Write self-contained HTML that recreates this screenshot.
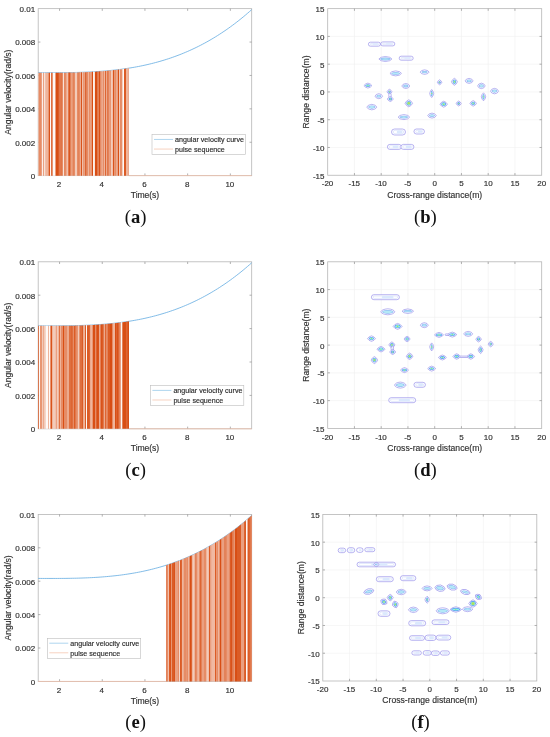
<!DOCTYPE html>
<html lang="en"><head><meta charset="utf-8"><title>Figure</title>
<style>html,body{margin:0;padding:0;background:#fff}body{width:550px;height:737px;overflow:hidden}svg{display:block;font-family:"Liberation Sans",sans-serif}.s text{stroke:#333;stroke-width:.16px}</style>
</head><body>
<svg width="550" height="737" viewBox="0 0 550 737">
<rect width="550" height="737" fill="#fff"/>
<g class="s">
<rect x="38.20" y="8.65" width="213.50" height="167.00" fill="none" stroke="#b6b6b6" stroke-width="0.8"/>
<path d="M59.55,175.65v-2.2M59.55,8.65v2.2M102.25,175.65v-2.2M102.25,8.65v2.2M144.95,175.65v-2.2M144.95,8.65v2.2M187.65,175.65v-2.2M187.65,8.65v2.2M230.35,175.65v-2.2M230.35,8.65v2.2M38.20,142.25h2.2M251.70,142.25h-2.2M38.20,108.85h2.2M251.70,108.85h-2.2M38.20,75.45h2.2M251.70,75.45h-2.2M38.20,42.05h2.2M251.70,42.05h-2.2" fill="none" stroke="#909090" stroke-width="0.7"/>
<polyline points="38.20,72.67 40.34,72.68 42.47,72.69 44.61,72.69 46.74,72.70 48.88,72.70 51.01,72.70 53.15,72.70 55.28,72.70 57.41,72.69 59.55,72.68 61.69,72.67 63.82,72.65 65.95,72.63 68.09,72.60 70.22,72.57 72.36,72.53 74.50,72.49 76.63,72.44 78.77,72.38 80.90,72.32 83.03,72.24 85.17,72.17 87.31,72.08 89.44,71.98 91.58,71.88 93.71,71.76 95.84,71.63 97.98,71.50 100.12,71.35 102.25,71.20 104.38,71.03 106.52,70.85 108.66,70.65 110.79,70.45 112.92,70.23 115.06,70.00 117.20,69.75 119.33,69.50 121.47,69.22 123.60,68.93 125.73,68.63 127.87,68.31 130.00,67.97 132.14,67.62 134.28,67.25 136.41,66.86 138.55,66.46 140.68,66.04 142.81,65.60 144.95,65.14 147.08,64.66 149.22,64.16 151.36,63.64 153.49,63.10 155.62,62.54 157.76,61.96 159.90,61.36 162.03,60.74 164.17,60.09 166.30,59.42 168.44,58.73 170.57,58.02 172.70,57.28 174.84,56.51 176.98,55.73 179.11,54.91 181.25,54.08 183.38,53.21 185.51,52.32 187.65,51.41 189.78,50.46 191.92,49.49 194.06,48.49 196.19,47.47 198.32,46.41 200.46,45.33 202.59,44.21 204.73,43.07 206.87,41.90 209.00,40.69 211.13,39.46 213.27,38.19 215.41,36.90 217.54,35.57 219.68,34.21 221.81,32.81 223.94,31.39 226.08,29.93 228.22,28.43 230.35,26.90 232.49,25.34 234.62,23.74 236.75,22.11 238.89,20.44 241.02,18.73 243.16,16.99 245.29,15.21 247.43,13.39 249.56,11.54 251.70,9.65" fill="none" stroke="#62abe1" stroke-width="0.8"/>
<polygon points="38.30,175.65 38.30,72.67 39.00,72.68 39.00,175.65" fill="#ecaa8e"/>
<polygon points="39.00,175.65 39.00,72.68 40.00,72.68 40.00,175.65" fill="#e68c66"/>
<polygon points="40.00,175.65 40.00,72.68 41.00,72.68 41.00,175.65" fill="#e68c66"/>
<polygon points="41.00,175.65 41.00,72.68 42.00,72.68 42.00,175.65" fill="#eaa081"/>
<polygon points="42.00,175.65 42.00,72.68 43.00,72.69 43.00,175.65" fill="#fcf0eb"/>
<polygon points="43.00,175.65 43.00,72.69 44.00,72.69 44.00,175.65" fill="#eaa081"/>
<polygon points="44.00,175.65 44.00,72.69 45.00,72.69 45.00,175.65" fill="#f9e3d9"/>
<polygon points="45.00,175.65 45.00,72.69 46.00,72.69 46.00,175.65" fill="#f1bfab"/>
<polygon points="46.00,175.65 46.00,72.69 47.00,72.70 47.00,175.65" fill="#efb59c"/>
<polygon points="47.00,175.65 47.00,72.70 48.00,72.70 48.00,175.65" fill="#efb59c"/>
<polygon points="48.00,175.65 48.00,72.70 49.00,72.70 49.00,175.65" fill="#e89673"/>
<polygon points="49.00,175.65 49.00,72.70 50.00,72.70 50.00,175.65" fill="#d9521a"/>
<polygon points="50.00,175.65 50.00,72.70 51.00,72.70 51.00,175.65" fill="#fef9f7"/>
<polygon points="51.00,175.65 51.00,72.70 52.00,72.70 52.00,175.65" fill="#df6f3f"/>
<polygon points="52.00,175.65 52.00,72.70 53.00,72.70 53.00,175.65" fill="#e89673"/>
<polygon points="53.00,175.65 53.00,72.70 54.00,72.70 54.00,175.65" fill="#fef9f7"/>
<polygon points="54.00,175.65 54.00,72.70 55.00,72.70 55.00,175.65" fill="#fef9f7"/>
<polygon points="55.00,175.65 55.00,72.70 56.00,72.69 56.00,175.65" fill="#eaa081"/>
<polygon points="56.00,175.65 56.00,72.69 57.00,72.69 57.00,175.65" fill="#d84e14"/>
<polygon points="57.00,175.65 57.00,72.69 58.00,72.69 58.00,175.65" fill="#d84e14"/>
<polygon points="58.00,175.65 58.00,72.69 59.00,72.68 59.00,175.65" fill="#db5c26"/>
<polygon points="59.00,175.65 59.00,72.68 60.00,72.68 60.00,175.65" fill="#e1784c"/>
<polygon points="60.00,175.65 60.00,72.68 61.00,72.67 61.00,175.65" fill="#e1784c"/>
<polygon points="61.00,175.65 61.00,72.67 62.00,72.66 62.00,175.65" fill="#e07447"/>
<polygon points="62.00,175.65 62.00,72.66 63.00,72.66 63.00,175.65" fill="#e68c66"/>
<polygon points="63.00,175.65 63.00,72.66 64.00,72.65 64.00,175.65" fill="#f9e3d9"/>
<polygon points="64.00,175.65 64.00,72.65 65.00,72.64 65.00,175.65" fill="#e58861"/>
<polygon points="65.00,175.65 65.00,72.64 66.00,72.63 66.00,175.65" fill="#e68c66"/>
<polygon points="66.00,175.65 66.00,72.63 67.00,72.61 67.00,175.65" fill="#ecaa8e"/>
<polygon points="67.00,175.65 67.00,72.61 68.00,72.60 68.00,175.65" fill="#f1bfab"/>
<polygon points="68.00,175.65 68.00,72.60 69.00,72.59 69.00,175.65" fill="#e1784c"/>
<polygon points="69.00,175.65 69.00,72.59 70.00,72.57 70.00,175.65" fill="#da561f"/>
<polygon points="70.00,175.65 70.00,72.57 71.00,72.56 71.00,175.65" fill="#e38259"/>
<polygon points="71.00,175.65 71.00,72.56 72.00,72.54 72.00,175.65" fill="#eaa081"/>
<polygon points="72.00,175.65 72.00,72.54 73.00,72.52 73.00,175.65" fill="#e89673"/>
<polygon points="73.00,175.65 73.00,72.52 74.00,72.50 74.00,175.65" fill="#e38259"/>
<polygon points="74.00,175.65 74.00,72.50 75.00,72.48 75.00,175.65" fill="#e68c66"/>
<polygon points="75.00,175.65 75.00,72.48 76.00,72.45 76.00,175.65" fill="#f3cbba"/>
<polygon points="76.00,175.65 76.00,72.45 77.00,72.43 77.00,175.65" fill="#f3cbba"/>
<polygon points="77.00,175.65 77.00,72.43 78.00,72.40 78.00,175.65" fill="#e68c66"/>
<polygon points="78.00,175.65 78.00,72.40 79.00,72.37 79.00,175.65" fill="#e38259"/>
<polygon points="79.00,175.65 79.00,72.37 80.00,72.34 80.00,175.65" fill="#e68c66"/>
<polygon points="80.00,175.65 80.00,72.34 81.00,72.31 81.00,175.65" fill="#ecaa8e"/>
<polygon points="81.00,175.65 81.00,72.31 82.00,72.28 82.00,175.65" fill="#d9521a"/>
<polygon points="82.00,175.65 82.00,72.28 83.00,72.25 83.00,175.65" fill="#f1bfab"/>
<polygon points="83.00,175.65 83.00,72.25 84.00,72.21 84.00,175.65" fill="#e89673"/>
<polygon points="84.00,175.65 84.00,72.21 85.00,72.17 85.00,175.65" fill="#eaa081"/>
<polygon points="85.00,175.65 85.00,72.17 86.00,72.13 86.00,175.65" fill="#dd6533"/>
<polygon points="86.00,175.65 86.00,72.13 87.00,72.09 87.00,175.65" fill="#e38259"/>
<polygon points="87.00,175.65 87.00,72.09 88.00,72.05 88.00,175.65" fill="#e68c66"/>
<polygon points="88.00,175.65 88.00,72.05 89.00,72.00 89.00,175.65" fill="#efb59c"/>
<polygon points="89.00,175.65 89.00,72.00 90.00,71.95 90.00,175.65" fill="#e68c66"/>
<polygon points="90.00,175.65 90.00,71.95 91.00,71.90 91.00,175.65" fill="#eaa081"/>
<polygon points="91.00,175.65 91.00,71.90 92.00,71.85 92.00,175.65" fill="#e89673"/>
<polygon points="92.00,175.65 92.00,71.85 93.00,71.80 93.00,175.65" fill="#d84e14"/>
<polygon points="93.00,175.65 93.00,71.80 94.00,71.74 94.00,175.65" fill="#fcf0eb"/>
<polygon points="94.00,175.65 94.00,71.74 95.00,71.69 95.00,175.65" fill="#f9e3d9"/>
<polygon points="95.00,175.65 95.00,71.69 96.00,71.63 96.00,175.65" fill="#d84e14"/>
<polygon points="96.00,175.65 96.00,71.63 97.00,71.56 97.00,175.65" fill="#d84e14"/>
<polygon points="97.00,175.65 97.00,71.56 98.00,71.50 98.00,175.65" fill="#e1784c"/>
<polygon points="98.00,175.65 98.00,71.50 99.00,71.43 99.00,175.65" fill="#e38259"/>
<polygon points="99.00,175.65 99.00,71.43 100.00,71.36 100.00,175.65" fill="#d9521a"/>
<polygon points="100.00,175.65 100.00,71.36 101.00,71.29 101.00,175.65" fill="#e68c66"/>
<polygon points="101.00,175.65 101.00,71.29 102.00,71.22 102.00,175.65" fill="#eaa081"/>
<polygon points="102.00,175.65 102.00,71.22 103.00,71.14 103.00,175.65" fill="#ecaa8e"/>
<polygon points="103.00,175.65 103.00,71.14 104.00,71.06 104.00,175.65" fill="#e68c66"/>
<polygon points="104.00,175.65 104.00,71.06 105.00,70.98 105.00,175.65" fill="#efb59c"/>
<polygon points="105.00,175.65 105.00,70.98 106.00,70.89 106.00,175.65" fill="#dd6533"/>
<polygon points="106.00,175.65 106.00,70.89 107.00,70.81 107.00,175.65" fill="#ecaa8e"/>
<polygon points="107.00,175.65 107.00,70.81 108.00,70.72 108.00,175.65" fill="#e1784c"/>
<polygon points="108.00,175.65 108.00,70.72 109.00,70.62 109.00,175.65" fill="#e38259"/>
<polygon points="109.00,175.65 109.00,70.62 110.00,70.53 110.00,175.65" fill="#eaa081"/>
<polygon points="110.00,175.65 110.00,70.53 111.00,70.43 111.00,175.65" fill="#e89673"/>
<polygon points="111.00,175.65 111.00,70.43 112.00,70.33 112.00,175.65" fill="#f3cbba"/>
<polygon points="112.00,175.65 112.00,70.33 113.00,70.22 113.00,175.65" fill="#f1bfab"/>
<polygon points="113.00,175.65 113.00,70.22 114.00,70.12 114.00,175.65" fill="#d9521a"/>
<polygon points="114.00,175.65 114.00,70.12 115.00,70.01 115.00,175.65" fill="#e89673"/>
<polygon points="115.00,175.65 115.00,70.01 116.00,69.89 116.00,175.65" fill="#e68c66"/>
<polygon points="116.00,175.65 116.00,69.89 117.00,69.78 117.00,175.65" fill="#ecaa8e"/>
<polygon points="117.00,175.65 117.00,69.78 118.00,69.66 118.00,175.65" fill="#eaa081"/>
<polygon points="118.00,175.65 118.00,69.66 119.00,69.54 119.00,175.65" fill="#d84e14"/>
<polygon points="119.00,175.65 119.00,69.54 120.00,69.41 120.00,175.65" fill="#f3cbba"/>
<polygon points="120.00,175.65 120.00,69.41 121.00,69.28 121.00,175.65" fill="#e68c66"/>
<polygon points="121.00,175.65 121.00,69.28 122.00,69.15 122.00,175.65" fill="#e6906b"/>
<polygon points="122.00,175.65 122.00,69.15 123.00,69.02 123.00,175.65" fill="#f4cfc0"/>
<polygon points="123.00,175.65 123.00,69.02 124.00,68.88 124.00,175.65" fill="#fef9f7"/>
<polygon points="124.00,175.65 124.00,68.88 125.00,68.73 125.00,175.65" fill="#db5c26"/>
<polygon points="125.00,175.65 125.00,68.73 126.00,68.59 126.00,175.65" fill="#db5c26"/>
<polygon points="126.00,175.65 126.00,68.59 127.00,68.44 127.00,175.65" fill="#efb59c"/>
<polygon points="127.00,175.65 127.00,68.44 128.00,68.29 128.00,175.65" fill="#efb59c"/>
<polygon points="128.00,175.65 128.00,68.29 129.00,68.13 129.00,175.65" fill="#ecaa8e"/>
<line x1="129.20" y1="175.65" x2="251.70" y2="175.65" stroke="#f4bfa6" stroke-width="0.7"/>
<text x="59.05" y="186.85" text-anchor="middle" font-size="8.0" fill="#303030">2</text>
<text x="101.75" y="186.85" text-anchor="middle" font-size="8.0" fill="#303030">4</text>
<text x="144.45" y="186.85" text-anchor="middle" font-size="8.0" fill="#303030">6</text>
<text x="187.15" y="186.85" text-anchor="middle" font-size="8.0" fill="#303030">8</text>
<text x="229.85" y="186.85" text-anchor="middle" font-size="8.0" fill="#303030">10</text>
<text x="35.20" y="178.95" text-anchor="end" font-size="8.0" fill="#303030">0</text>
<text x="35.20" y="145.55" text-anchor="end" font-size="8.0" fill="#303030">0.002</text>
<text x="35.20" y="112.15" text-anchor="end" font-size="8.0" fill="#303030">0.004</text>
<text x="35.20" y="78.75" text-anchor="end" font-size="8.0" fill="#303030">0.006</text>
<text x="35.20" y="45.35" text-anchor="end" font-size="8.0" fill="#303030">0.008</text>
<text x="35.20" y="11.95" text-anchor="end" font-size="8.0" fill="#303030">0.01</text>
<text x="144.95" y="197.75" text-anchor="middle" font-size="8.6" textLength="28.2" fill="#303030">Time(s)</text>
<text transform="translate(11,92.15) rotate(-90)" text-anchor="middle" font-size="8.6" textLength="85.2" fill="#303030">Angular velocity(rad/s)</text>
<rect x="152.00" y="134.65" width="93.4" height="20" fill="#fff" stroke="#bdbdbd" stroke-width="0.6"/>
<line x1="154.00" y1="139.45" x2="173.00" y2="139.45" stroke="#8cc4e8" stroke-width="0.7"/>
<line x1="154.00" y1="149.05" x2="173.00" y2="149.05" stroke="#f4bfa6" stroke-width="0.7"/>
<text x="175.00" y="142.35" font-size="7.1" textLength="69" fill="#2a2a2a">angular velocity curve</text>
<text x="175.00" y="151.85" font-size="7.1" textLength="49.8" fill="#2a2a2a">pulse sequence</text>
</g>
<text x="135.6" y="222.65" text-anchor="middle" font-family="'Liberation Serif', serif" font-size="18.6" fill="#111">(<tspan font-weight="bold">a</tspan>)</text>
<g class="s">
<rect x="38.20" y="261.80" width="213.50" height="167.00" fill="none" stroke="#b6b6b6" stroke-width="0.8"/>
<path d="M59.55,428.80v-2.2M59.55,261.80v2.2M102.25,428.80v-2.2M102.25,261.80v2.2M144.95,428.80v-2.2M144.95,261.80v2.2M187.65,428.80v-2.2M187.65,261.80v2.2M230.35,428.80v-2.2M230.35,261.80v2.2M38.20,395.40h2.2M251.70,395.40h-2.2M38.20,362.00h2.2M251.70,362.00h-2.2M38.20,328.60h2.2M251.70,328.60h-2.2M38.20,295.20h2.2M251.70,295.20h-2.2" fill="none" stroke="#909090" stroke-width="0.7"/>
<polyline points="38.20,325.82 40.34,325.83 42.47,325.84 44.61,325.84 46.74,325.85 48.88,325.85 51.01,325.85 53.15,325.85 55.28,325.85 57.41,325.84 59.55,325.83 61.69,325.82 63.82,325.80 65.95,325.78 68.09,325.75 70.22,325.72 72.36,325.68 74.50,325.64 76.63,325.59 78.77,325.53 80.90,325.47 83.03,325.39 85.17,325.32 87.31,325.23 89.44,325.13 91.58,325.03 93.71,324.91 95.84,324.78 97.98,324.65 100.12,324.50 102.25,324.35 104.38,324.18 106.52,324.00 108.66,323.80 110.79,323.60 112.92,323.38 115.06,323.15 117.20,322.90 119.33,322.65 121.47,322.37 123.60,322.08 125.73,321.78 127.87,321.46 130.00,321.12 132.14,320.77 134.28,320.40 136.41,320.01 138.55,319.61 140.68,319.19 142.81,318.75 144.95,318.29 147.08,317.81 149.22,317.31 151.36,316.79 153.49,316.25 155.62,315.69 157.76,315.11 159.90,314.51 162.03,313.89 164.17,313.24 166.30,312.57 168.44,311.88 170.57,311.17 172.70,310.43 174.84,309.66 176.98,308.88 179.11,308.06 181.25,307.23 183.38,306.36 185.51,305.47 187.65,304.56 189.78,303.61 191.92,302.64 194.06,301.64 196.19,300.62 198.32,299.56 200.46,298.48 202.59,297.36 204.73,296.22 206.87,295.05 209.00,293.84 211.13,292.61 213.27,291.34 215.41,290.05 217.54,288.72 219.68,287.36 221.81,285.96 223.94,284.54 226.08,283.08 228.22,281.58 230.35,280.05 232.49,278.49 234.62,276.89 236.75,275.26 238.89,273.59 241.02,271.88 243.16,270.14 245.29,268.36 247.43,266.54 249.56,264.69 251.70,262.80" fill="none" stroke="#62abe1" stroke-width="0.8"/>
<polygon points="38.30,428.80 38.30,325.82 39.00,325.83 39.00,428.80" fill="#d9521a"/>
<polygon points="39.00,428.80 39.00,325.83 40.00,325.83 40.00,428.80" fill="#fef9f7"/>
<polygon points="40.00,428.80 40.00,325.83 41.00,325.83 41.00,428.80" fill="#e89673"/>
<polygon points="41.00,428.80 41.00,325.83 42.00,325.83 42.00,428.80" fill="#e89673"/>
<polygon points="42.00,428.80 42.00,325.83 43.00,325.84 43.00,428.80" fill="#f3cbba"/>
<polygon points="43.00,428.80 43.00,325.84 44.00,325.84 44.00,428.80" fill="#ecaa8e"/>
<polygon points="44.00,428.80 44.00,325.84 45.00,325.84 45.00,428.80" fill="#f3cbba"/>
<polygon points="45.00,428.80 45.00,325.84 46.00,325.84 46.00,428.80" fill="#f6d6c9"/>
<polygon points="46.00,428.80 46.00,325.84 47.00,325.85 47.00,428.80" fill="#fef9f7"/>
<polygon points="47.00,428.80 47.00,325.85 48.00,325.85 48.00,428.80" fill="#fef9f7"/>
<polygon points="48.00,428.80 48.00,325.85 49.00,325.85 49.00,428.80" fill="#efb59c"/>
<polygon points="49.00,428.80 49.00,325.85 50.00,325.85 50.00,428.80" fill="#fef9f7"/>
<polygon points="50.00,428.80 50.00,325.85 51.00,325.85 51.00,428.80" fill="#e89673"/>
<polygon points="51.00,428.80 51.00,325.85 52.00,325.85 52.00,428.80" fill="#d9521a"/>
<polygon points="52.00,428.80 52.00,325.85 53.00,325.85 53.00,428.80" fill="#efb59c"/>
<polygon points="53.00,428.80 53.00,325.85 54.00,325.85 54.00,428.80" fill="#f3cbba"/>
<polygon points="54.00,428.80 54.00,325.85 55.00,325.85 55.00,428.80" fill="#f3cbba"/>
<polygon points="55.00,428.80 55.00,325.85 56.00,325.84 56.00,428.80" fill="#f1bfab"/>
<polygon points="56.00,428.80 56.00,325.84 57.00,325.84 57.00,428.80" fill="#eaa081"/>
<polygon points="57.00,428.80 57.00,325.84 58.00,325.84 58.00,428.80" fill="#f3cbba"/>
<polygon points="58.00,428.80 58.00,325.84 59.00,325.83 59.00,428.80" fill="#efb59c"/>
<polygon points="59.00,428.80 59.00,325.83 60.00,325.83 60.00,428.80" fill="#df6f3f"/>
<polygon points="60.00,428.80 60.00,325.83 61.00,325.82 61.00,428.80" fill="#efb59c"/>
<polygon points="61.00,428.80 61.00,325.82 62.00,325.81 62.00,428.80" fill="#e68c66"/>
<polygon points="62.00,428.80 62.00,325.81 63.00,325.81 63.00,428.80" fill="#e68c66"/>
<polygon points="63.00,428.80 63.00,325.81 64.00,325.80 64.00,428.80" fill="#d84e14"/>
<polygon points="64.00,428.80 64.00,325.80 65.00,325.79 65.00,428.80" fill="#e68c66"/>
<polygon points="65.00,428.80 65.00,325.79 66.00,325.78 66.00,428.80" fill="#e68c66"/>
<polygon points="66.00,428.80 66.00,325.78 67.00,325.76 67.00,428.80" fill="#e68c66"/>
<polygon points="67.00,428.80 67.00,325.76 68.00,325.75 68.00,428.80" fill="#ecaa8e"/>
<polygon points="68.00,428.80 68.00,325.75 69.00,325.74 69.00,428.80" fill="#ecaa8e"/>
<polygon points="69.00,428.80 69.00,325.74 70.00,325.72 70.00,428.80" fill="#df6f3f"/>
<polygon points="70.00,428.80 70.00,325.72 71.00,325.71 71.00,428.80" fill="#df6f3f"/>
<polygon points="71.00,428.80 71.00,325.71 72.00,325.69 72.00,428.80" fill="#dd6533"/>
<polygon points="72.00,428.80 72.00,325.69 73.00,325.67 73.00,428.80" fill="#df6f3f"/>
<polygon points="73.00,428.80 73.00,325.67 74.00,325.65 74.00,428.80" fill="#e68c66"/>
<polygon points="74.00,428.80 74.00,325.65 75.00,325.63 75.00,428.80" fill="#db5c26"/>
<polygon points="75.00,428.80 75.00,325.63 76.00,325.60 76.00,428.80" fill="#e1784c"/>
<polygon points="76.00,428.80 76.00,325.60 77.00,325.58 77.00,428.80" fill="#e68c66"/>
<polygon points="77.00,428.80 77.00,325.58 78.00,325.55 78.00,428.80" fill="#e89673"/>
<polygon points="78.00,428.80 78.00,325.55 79.00,325.52 79.00,428.80" fill="#f3cbba"/>
<polygon points="79.00,428.80 79.00,325.52 80.00,325.49 80.00,428.80" fill="#e89673"/>
<polygon points="80.00,428.80 80.00,325.49 81.00,325.46 81.00,428.80" fill="#df6f3f"/>
<polygon points="81.00,428.80 81.00,325.46 82.00,325.43 82.00,428.80" fill="#df6f3f"/>
<polygon points="82.00,428.80 82.00,325.43 83.00,325.40 83.00,428.80" fill="#db5c26"/>
<polygon points="83.00,428.80 83.00,325.40 84.00,325.36 84.00,428.80" fill="#ecaa8e"/>
<polygon points="84.00,428.80 84.00,325.36 85.00,325.32 85.00,428.80" fill="#efb59c"/>
<polygon points="85.00,428.80 85.00,325.32 86.00,325.28 86.00,428.80" fill="#db5c26"/>
<polygon points="86.00,428.80 86.00,325.28 87.00,325.24 87.00,428.80" fill="#fef9f7"/>
<polygon points="87.00,428.80 87.00,325.24 88.00,325.20 88.00,428.80" fill="#db5c26"/>
<polygon points="88.00,428.80 88.00,325.20 89.00,325.15 89.00,428.80" fill="#db5c26"/>
<polygon points="89.00,428.80 89.00,325.15 90.00,325.10 90.00,428.80" fill="#dd6533"/>
<polygon points="90.00,428.80 90.00,325.10 91.00,325.05 91.00,428.80" fill="#ecaa8e"/>
<polygon points="91.00,428.80 91.00,325.05 92.00,325.00 92.00,428.80" fill="#efb59c"/>
<polygon points="92.00,428.80 92.00,325.00 93.00,324.95 93.00,428.80" fill="#e89673"/>
<polygon points="93.00,428.80 93.00,324.95 94.00,324.89 94.00,428.80" fill="#d84e14"/>
<polygon points="94.00,428.80 94.00,324.89 95.00,324.84 95.00,428.80" fill="#d84e14"/>
<polygon points="95.00,428.80 95.00,324.84 96.00,324.78 96.00,428.80" fill="#e68c66"/>
<polygon points="96.00,428.80 96.00,324.78 97.00,324.71 97.00,428.80" fill="#dd6533"/>
<polygon points="97.00,428.80 97.00,324.71 98.00,324.65 98.00,428.80" fill="#d84e14"/>
<polygon points="98.00,428.80 98.00,324.65 99.00,324.58 99.00,428.80" fill="#d9521a"/>
<polygon points="99.00,428.80 99.00,324.58 100.00,324.51 100.00,428.80" fill="#ecaa8e"/>
<polygon points="100.00,428.80 100.00,324.51 101.00,324.44 101.00,428.80" fill="#e38259"/>
<polygon points="101.00,428.80 101.00,324.44 102.00,324.37 102.00,428.80" fill="#d9521a"/>
<polygon points="102.00,428.80 102.00,324.37 103.00,324.29 103.00,428.80" fill="#db5c26"/>
<polygon points="103.00,428.80 103.00,324.29 104.00,324.21 104.00,428.80" fill="#e1784c"/>
<polygon points="104.00,428.80 104.00,324.21 105.00,324.13 105.00,428.80" fill="#ecaa8e"/>
<polygon points="105.00,428.80 105.00,324.13 106.00,324.04 106.00,428.80" fill="#dd6533"/>
<polygon points="106.00,428.80 106.00,324.04 107.00,323.96 107.00,428.80" fill="#e68c66"/>
<polygon points="107.00,428.80 107.00,323.96 108.00,323.87 108.00,428.80" fill="#e38259"/>
<polygon points="108.00,428.80 108.00,323.87 109.00,323.77 109.00,428.80" fill="#db5c26"/>
<polygon points="109.00,428.80 109.00,323.77 110.00,323.68 110.00,428.80" fill="#db5c26"/>
<polygon points="110.00,428.80 110.00,323.68 111.00,323.58 111.00,428.80" fill="#d84e14"/>
<polygon points="111.00,428.80 111.00,323.58 112.00,323.48 112.00,428.80" fill="#d84e14"/>
<polygon points="112.00,428.80 112.00,323.48 113.00,323.37 113.00,428.80" fill="#e68c66"/>
<polygon points="113.00,428.80 113.00,323.37 114.00,323.27 114.00,428.80" fill="#efb59c"/>
<polygon points="114.00,428.80 114.00,323.27 115.00,323.16 115.00,428.80" fill="#efb59c"/>
<polygon points="115.00,428.80 115.00,323.16 116.00,323.04 116.00,428.80" fill="#d84e14"/>
<polygon points="116.00,428.80 116.00,323.04 117.00,322.93 117.00,428.80" fill="#dc612e"/>
<polygon points="117.00,428.80 117.00,322.93 118.00,322.81 118.00,428.80" fill="#d9521a"/>
<polygon points="118.00,428.80 118.00,322.81 119.00,322.69 119.00,428.80" fill="#dd6533"/>
<polygon points="119.00,428.80 119.00,322.69 120.00,322.56 120.00,428.80" fill="#e38259"/>
<polygon points="120.00,428.80 120.00,322.56 121.00,322.43 121.00,428.80" fill="#eaa081"/>
<polygon points="121.00,428.80 121.00,322.43 122.00,322.30 122.00,428.80" fill="#fdf6f3"/>
<polygon points="122.00,428.80 122.00,322.30 123.00,322.17 123.00,428.80" fill="#e38259"/>
<polygon points="123.00,428.80 123.00,322.17 124.00,322.03 124.00,428.80" fill="#d84e14"/>
<polygon points="124.00,428.80 124.00,322.03 125.00,321.88 125.00,428.80" fill="#d84e14"/>
<polygon points="125.00,428.80 125.00,321.88 126.00,321.74 126.00,428.80" fill="#d84f15"/>
<polygon points="126.00,428.80 126.00,321.74 127.00,321.59 127.00,428.80" fill="#dd6533"/>
<polygon points="127.00,428.80 127.00,321.59 128.00,321.44 128.00,428.80" fill="#db5c26"/>
<polygon points="128.00,428.80 128.00,321.44 129.00,321.28 129.00,428.80" fill="#d84e14"/>
<line x1="129.20" y1="428.80" x2="251.70" y2="428.80" stroke="#f4bfa6" stroke-width="0.7"/>
<text x="59.05" y="440.00" text-anchor="middle" font-size="8.0" fill="#303030">2</text>
<text x="101.75" y="440.00" text-anchor="middle" font-size="8.0" fill="#303030">4</text>
<text x="144.45" y="440.00" text-anchor="middle" font-size="8.0" fill="#303030">6</text>
<text x="187.15" y="440.00" text-anchor="middle" font-size="8.0" fill="#303030">8</text>
<text x="229.85" y="440.00" text-anchor="middle" font-size="8.0" fill="#303030">10</text>
<text x="35.20" y="432.10" text-anchor="end" font-size="8.0" fill="#303030">0</text>
<text x="35.20" y="398.70" text-anchor="end" font-size="8.0" fill="#303030">0.002</text>
<text x="35.20" y="365.30" text-anchor="end" font-size="8.0" fill="#303030">0.004</text>
<text x="35.20" y="331.90" text-anchor="end" font-size="8.0" fill="#303030">0.006</text>
<text x="35.20" y="298.50" text-anchor="end" font-size="8.0" fill="#303030">0.008</text>
<text x="35.20" y="265.10" text-anchor="end" font-size="8.0" fill="#303030">0.01</text>
<text x="144.95" y="450.90" text-anchor="middle" font-size="8.6" textLength="28.2" fill="#303030">Time(s)</text>
<text transform="translate(11,345.30) rotate(-90)" text-anchor="middle" font-size="8.6" textLength="85.2" fill="#303030">Angular velocity(rad/s)</text>
<rect x="150.40" y="385.60" width="93.4" height="20" fill="#fff" stroke="#bdbdbd" stroke-width="0.6"/>
<line x1="152.40" y1="390.40" x2="171.40" y2="390.40" stroke="#8cc4e8" stroke-width="0.7"/>
<line x1="152.40" y1="400.00" x2="171.40" y2="400.00" stroke="#f4bfa6" stroke-width="0.7"/>
<text x="173.40" y="393.30" font-size="7.1" textLength="69" fill="#2a2a2a">angular velocity curve</text>
<text x="173.40" y="402.80" font-size="7.1" textLength="49.8" fill="#2a2a2a">pulse sequence</text>
</g>
<text x="135.6" y="475.80" text-anchor="middle" font-family="'Liberation Serif', serif" font-size="18.6" fill="#111">(<tspan font-weight="bold">c</tspan>)</text>
<g class="s">
<rect x="38.20" y="514.40" width="213.50" height="167.00" fill="none" stroke="#b6b6b6" stroke-width="0.8"/>
<path d="M59.55,681.40v-2.2M59.55,514.40v2.2M102.25,681.40v-2.2M102.25,514.40v2.2M144.95,681.40v-2.2M144.95,514.40v2.2M187.65,681.40v-2.2M187.65,514.40v2.2M230.35,681.40v-2.2M230.35,514.40v2.2M38.20,648.00h2.2M251.70,648.00h-2.2M38.20,614.60h2.2M251.70,614.60h-2.2M38.20,581.20h2.2M251.70,581.20h-2.2M38.20,547.80h2.2M251.70,547.80h-2.2" fill="none" stroke="#909090" stroke-width="0.7"/>
<polyline points="38.20,578.42 40.34,578.43 42.47,578.44 44.61,578.44 46.74,578.45 48.88,578.45 51.01,578.45 53.15,578.45 55.28,578.45 57.41,578.44 59.55,578.43 61.69,578.42 63.82,578.40 65.95,578.38 68.09,578.35 70.22,578.32 72.36,578.28 74.50,578.24 76.63,578.19 78.77,578.13 80.90,578.07 83.03,577.99 85.17,577.92 87.31,577.83 89.44,577.73 91.58,577.63 93.71,577.51 95.84,577.38 97.98,577.25 100.12,577.10 102.25,576.95 104.38,576.78 106.52,576.60 108.66,576.40 110.79,576.20 112.92,575.98 115.06,575.75 117.20,575.50 119.33,575.25 121.47,574.97 123.60,574.68 125.73,574.38 127.87,574.06 130.00,573.72 132.14,573.37 134.28,573.00 136.41,572.61 138.55,572.21 140.68,571.79 142.81,571.35 144.95,570.89 147.08,570.41 149.22,569.91 151.36,569.39 153.49,568.85 155.62,568.29 157.76,567.71 159.90,567.11 162.03,566.49 164.17,565.84 166.30,565.17 168.44,564.48 170.57,563.77 172.70,563.03 174.84,562.26 176.98,561.48 179.11,560.66 181.25,559.83 183.38,558.96 185.51,558.07 187.65,557.16 189.78,556.21 191.92,555.24 194.06,554.24 196.19,553.22 198.32,552.16 200.46,551.08 202.59,549.96 204.73,548.82 206.87,547.65 209.00,546.44 211.13,545.21 213.27,543.94 215.41,542.65 217.54,541.32 219.68,539.96 221.81,538.56 223.94,537.14 226.08,535.68 228.22,534.18 230.35,532.65 232.49,531.09 234.62,529.49 236.75,527.86 238.89,526.19 241.02,524.48 243.16,522.74 245.29,520.96 247.43,519.14 249.56,517.29 251.70,515.40" fill="none" stroke="#62abe1" stroke-width="0.8"/>
<polygon points="166.00,681.40 166.00,565.27 167.00,564.95 167.00,681.40" fill="#e38259"/>
<polygon points="167.00,681.40 167.00,564.95 168.00,564.63 168.00,681.40" fill="#e68c66"/>
<polygon points="168.00,681.40 168.00,564.63 169.00,564.30 169.00,681.40" fill="#f1bfab"/>
<polygon points="169.00,681.40 169.00,564.30 170.00,563.96 170.00,681.40" fill="#db5c26"/>
<polygon points="170.00,681.40 170.00,563.96 171.00,563.62 171.00,681.40" fill="#d9521a"/>
<polygon points="171.00,681.40 171.00,563.62 172.00,563.27 172.00,681.40" fill="#e89673"/>
<polygon points="172.00,681.40 172.00,563.27 173.00,562.92 173.00,681.40" fill="#db5c26"/>
<polygon points="173.00,681.40 173.00,562.92 174.00,562.57 174.00,681.40" fill="#db5c26"/>
<polygon points="174.00,681.40 174.00,562.57 175.00,562.21 175.00,681.40" fill="#d9521a"/>
<polygon points="175.00,681.40 175.00,562.21 176.00,561.84 176.00,681.40" fill="#eaa081"/>
<polygon points="176.00,681.40 176.00,561.84 177.00,561.47 177.00,681.40" fill="#eaa081"/>
<polygon points="177.00,681.40 177.00,561.47 178.00,561.09 178.00,681.40" fill="#eaa081"/>
<polygon points="178.00,681.40 178.00,561.09 179.00,560.71 179.00,681.40" fill="#e68c66"/>
<polygon points="179.00,681.40 179.00,560.71 180.00,560.32 180.00,681.40" fill="#f6d6c9"/>
<polygon points="180.00,681.40 180.00,560.32 181.00,559.92 181.00,681.40" fill="#db5c26"/>
<polygon points="181.00,681.40 181.00,559.92 182.00,559.52 182.00,681.40" fill="#dd6533"/>
<polygon points="182.00,681.40 182.00,559.52 183.00,559.12 183.00,681.40" fill="#efb59c"/>
<polygon points="183.00,681.40 183.00,559.12 184.00,558.71 184.00,681.40" fill="#ecaa8e"/>
<polygon points="184.00,681.40 184.00,558.71 185.00,558.29 185.00,681.40" fill="#e68c66"/>
<polygon points="185.00,681.40 185.00,558.29 186.00,557.87 186.00,681.40" fill="#e68c66"/>
<polygon points="186.00,681.40 186.00,557.87 187.00,557.44 187.00,681.40" fill="#e89673"/>
<polygon points="187.00,681.40 187.00,557.44 188.00,557.00 188.00,681.40" fill="#e68c66"/>
<polygon points="188.00,681.40 188.00,557.00 189.00,556.56 189.00,681.40" fill="#efb59c"/>
<polygon points="189.00,681.40 189.00,556.56 190.00,556.12 190.00,681.40" fill="#e68c66"/>
<polygon points="190.00,681.40 190.00,556.12 191.00,555.66 191.00,681.40" fill="#d84e14"/>
<polygon points="191.00,681.40 191.00,555.66 192.00,555.20 192.00,681.40" fill="#dd6533"/>
<polygon points="192.00,681.40 192.00,555.20 193.00,554.74 193.00,681.40" fill="#efb59c"/>
<polygon points="193.00,681.40 193.00,554.74 194.00,554.27 194.00,681.40" fill="#f3cbba"/>
<polygon points="194.00,681.40 194.00,554.27 195.00,553.79 195.00,681.40" fill="#efb59c"/>
<polygon points="195.00,681.40 195.00,553.79 196.00,553.31 196.00,681.40" fill="#e38259"/>
<polygon points="196.00,681.40 196.00,553.31 197.00,552.82 197.00,681.40" fill="#e68c66"/>
<polygon points="197.00,681.40 197.00,552.82 198.00,552.32 198.00,681.40" fill="#ecaa8e"/>
<polygon points="198.00,681.40 198.00,552.32 199.00,551.82 199.00,681.40" fill="#efb59c"/>
<polygon points="199.00,681.40 199.00,551.82 200.00,551.31 200.00,681.40" fill="#e68c66"/>
<polygon points="200.00,681.40 200.00,551.31 201.00,550.80 201.00,681.40" fill="#dd6533"/>
<polygon points="201.00,681.40 201.00,550.80 202.00,550.28 202.00,681.40" fill="#e38259"/>
<polygon points="202.00,681.40 202.00,550.28 203.00,549.75 203.00,681.40" fill="#eaa081"/>
<polygon points="203.00,681.40 203.00,549.75 204.00,549.21 204.00,681.40" fill="#eaa081"/>
<polygon points="204.00,681.40 204.00,549.21 205.00,548.67 205.00,681.40" fill="#e68c66"/>
<polygon points="205.00,681.40 205.00,548.67 206.00,548.13 206.00,681.40" fill="#e68c66"/>
<polygon points="206.00,681.40 206.00,548.13 207.00,547.57 207.00,681.40" fill="#efb59c"/>
<polygon points="207.00,681.40 207.00,547.57 208.00,547.01 208.00,681.40" fill="#f3cbba"/>
<polygon points="208.00,681.40 208.00,547.01 209.00,546.44 209.00,681.40" fill="#f1bfab"/>
<polygon points="209.00,681.40 209.00,546.44 210.00,545.87 210.00,681.40" fill="#db5c26"/>
<polygon points="210.00,681.40 210.00,545.87 211.00,545.29 211.00,681.40" fill="#eaa081"/>
<polygon points="211.00,681.40 211.00,545.29 212.00,544.70 212.00,681.40" fill="#eeb097"/>
<polygon points="212.00,681.40 212.00,544.70 213.00,544.11 213.00,681.40" fill="#f0b9a2"/>
<polygon points="213.00,681.40 213.00,544.11 214.00,543.50 214.00,681.40" fill="#f0b9a2"/>
<polygon points="214.00,681.40 214.00,543.50 215.00,542.90 215.00,681.40" fill="#f0b9a2"/>
<polygon points="215.00,681.40 215.00,542.90 216.00,542.28 216.00,681.40" fill="#db5c26"/>
<polygon points="216.00,681.40 216.00,542.28 217.00,541.66 217.00,681.40" fill="#e89673"/>
<polygon points="217.00,681.40 217.00,541.66 218.00,541.03 218.00,681.40" fill="#e68c66"/>
<polygon points="218.00,681.40 218.00,541.03 219.00,540.39 219.00,681.40" fill="#efb59c"/>
<polygon points="219.00,681.40 219.00,540.39 220.00,539.75 220.00,681.40" fill="#e89673"/>
<polygon points="220.00,681.40 220.00,539.75 221.00,539.10 221.00,681.40" fill="#d84e14"/>
<polygon points="221.00,681.40 221.00,539.10 222.00,538.44 222.00,681.40" fill="#e68c66"/>
<polygon points="222.00,681.40 222.00,538.44 223.00,537.77 223.00,681.40" fill="#eaa081"/>
<polygon points="223.00,681.40 223.00,537.77 224.00,537.10 224.00,681.40" fill="#eaa081"/>
<polygon points="224.00,681.40 224.00,537.10 225.00,536.42 225.00,681.40" fill="#e38259"/>
<polygon points="225.00,681.40 225.00,536.42 226.00,535.73 226.00,681.40" fill="#e38259"/>
<polygon points="226.00,681.40 226.00,535.73 227.00,535.04 227.00,681.40" fill="#e68c66"/>
<polygon points="227.00,681.40 227.00,535.04 228.00,534.33 228.00,681.40" fill="#eaa081"/>
<polygon points="228.00,681.40 228.00,534.33 229.00,533.62 229.00,681.40" fill="#eaa081"/>
<polygon points="229.00,681.40 229.00,533.62 230.00,532.91 230.00,681.40" fill="#e68c66"/>
<polygon points="230.00,681.40 230.00,532.91 231.00,532.18 231.00,681.40" fill="#db5c26"/>
<polygon points="231.00,681.40 231.00,532.18 232.00,531.45 232.00,681.40" fill="#d9521a"/>
<polygon points="232.00,681.40 232.00,531.45 233.00,530.71 233.00,681.40" fill="#e1784c"/>
<polygon points="233.00,681.40 233.00,530.71 234.00,529.96 234.00,681.40" fill="#e38259"/>
<polygon points="234.00,681.40 234.00,529.96 235.00,529.20 235.00,681.40" fill="#e89673"/>
<polygon points="235.00,681.40 235.00,529.20 236.00,528.44 236.00,681.40" fill="#d84e14"/>
<polygon points="236.00,681.40 236.00,528.44 237.00,527.67 237.00,681.40" fill="#d84e14"/>
<polygon points="237.00,681.40 237.00,527.67 238.00,526.89 238.00,681.40" fill="#db5c26"/>
<polygon points="238.00,681.40 238.00,526.89 239.00,526.10 239.00,681.40" fill="#db5c26"/>
<polygon points="239.00,681.40 239.00,526.10 240.00,525.31 240.00,681.40" fill="#db5c26"/>
<polygon points="240.00,681.40 240.00,525.31 241.00,524.50 241.00,681.40" fill="#db5c26"/>
<polygon points="241.00,681.40 241.00,524.50 242.00,523.69 242.00,681.40" fill="#eaa081"/>
<polygon points="242.00,681.40 242.00,523.69 243.00,522.87 243.00,681.40" fill="#eaa081"/>
<polygon points="243.00,681.40 243.00,522.87 244.00,522.04 244.00,681.40" fill="#eaa081"/>
<polygon points="244.00,681.40 244.00,522.04 245.00,521.21 245.00,681.40" fill="#dd6533"/>
<polygon points="245.00,681.40 245.00,521.21 246.00,520.36 246.00,681.40" fill="#db5c26"/>
<polygon points="246.00,681.40 246.00,520.36 247.00,519.51 247.00,681.40" fill="#fef9f7"/>
<polygon points="247.00,681.40 247.00,519.51 248.00,518.65 248.00,681.40" fill="#eeb097"/>
<polygon points="248.00,681.40 248.00,518.65 249.00,517.78 249.00,681.40" fill="#db5c26"/>
<polygon points="249.00,681.40 249.00,517.78 250.00,516.91 250.00,681.40" fill="#dd6533"/>
<polygon points="250.00,681.40 250.00,516.91 251.00,516.02 251.00,681.40" fill="#e1784c"/>
<polygon points="251.00,681.40 251.00,516.02 251.90,515.22 251.90,681.40" fill="#e38259"/>
<line x1="38.20" y1="681.40" x2="165.90" y2="681.40" stroke="#f4bfa6" stroke-width="0.7"/>
<text x="59.05" y="692.60" text-anchor="middle" font-size="8.0" fill="#303030">2</text>
<text x="101.75" y="692.60" text-anchor="middle" font-size="8.0" fill="#303030">4</text>
<text x="144.45" y="692.60" text-anchor="middle" font-size="8.0" fill="#303030">6</text>
<text x="187.15" y="692.60" text-anchor="middle" font-size="8.0" fill="#303030">8</text>
<text x="229.85" y="692.60" text-anchor="middle" font-size="8.0" fill="#303030">10</text>
<text x="35.20" y="684.70" text-anchor="end" font-size="8.0" fill="#303030">0</text>
<text x="35.20" y="651.30" text-anchor="end" font-size="8.0" fill="#303030">0.002</text>
<text x="35.20" y="617.90" text-anchor="end" font-size="8.0" fill="#303030">0.004</text>
<text x="35.20" y="584.50" text-anchor="end" font-size="8.0" fill="#303030">0.006</text>
<text x="35.20" y="551.10" text-anchor="end" font-size="8.0" fill="#303030">0.008</text>
<text x="35.20" y="517.70" text-anchor="end" font-size="8.0" fill="#303030">0.01</text>
<text x="144.95" y="703.50" text-anchor="middle" font-size="8.6" textLength="28.2" fill="#303030">Time(s)</text>
<text transform="translate(11,597.90) rotate(-90)" text-anchor="middle" font-size="8.6" textLength="85.2" fill="#303030">Angular velocity(rad/s)</text>
<rect x="47.30" y="638.40" width="93.4" height="20" fill="#fff" stroke="#bdbdbd" stroke-width="0.6"/>
<line x1="49.30" y1="643.20" x2="68.30" y2="643.20" stroke="#8cc4e8" stroke-width="0.7"/>
<line x1="49.30" y1="652.80" x2="68.30" y2="652.80" stroke="#f4bfa6" stroke-width="0.7"/>
<text x="70.30" y="646.10" font-size="7.1" textLength="69" fill="#2a2a2a">angular velocity curve</text>
<text x="70.30" y="655.60" font-size="7.1" textLength="49.8" fill="#2a2a2a">pulse sequence</text>
</g>
<text x="135.6" y="728.40" text-anchor="middle" font-family="'Liberation Serif', serif" font-size="18.6" fill="#111">(<tspan font-weight="bold">e</tspan>)</text>
<g class="s">
<path d="M354.45,8.65V175.25M381.20,8.65V175.25M407.95,8.65V175.25M434.70,8.65V175.25M461.45,8.65V175.25M488.20,8.65V175.25M514.95,8.65V175.25M327.70,147.48H541.70M327.70,119.72H541.70M327.70,91.95H541.70M327.70,64.18H541.70M327.70,36.42H541.70" fill="none" stroke="#f0f0f0" stroke-width="0.6"/>
<rect x="327.70" y="8.65" width="214.00" height="166.60" fill="none" stroke="#b6b6b6" stroke-width="0.8"/>
<path d="M354.45,175.25v-2.2M354.45,8.65v2.2M381.20,175.25v-2.2M381.20,8.65v2.2M407.95,175.25v-2.2M407.95,8.65v2.2M434.70,175.25v-2.2M434.70,8.65v2.2M461.45,175.25v-2.2M461.45,8.65v2.2M488.20,175.25v-2.2M488.20,8.65v2.2M514.95,175.25v-2.2M514.95,8.65v2.2M327.70,147.48h2.2M541.70,147.48h-2.2M327.70,119.72h2.2M541.70,119.72h-2.2M327.70,91.95h2.2M541.70,91.95h-2.2M327.70,64.18h2.2M541.70,64.18h-2.2M327.70,36.42h2.2M541.70,36.42h-2.2" fill="none" stroke="#909090" stroke-width="0.7"/>
<g><rect x="368.40" y="42.20" width="12.00" height="4.00" rx="2.00" fill="#fff" stroke="#7f78e6" stroke-width="0.55"/><rect x="370.20" y="43.50" width="8.40" height="1.40" rx="0.70" fill="none" stroke="#b4c4f6" stroke-width="0.35"/><rect x="372.84" y="43.60" width="5.04" height="1.20" rx="0.60" fill="#dbe9fd"/></g>
<g><rect x="380.80" y="41.90" width="14.00" height="4.00" rx="2.00" fill="#fff" stroke="#7f78e6" stroke-width="0.55"/><rect x="382.60" y="43.20" width="10.40" height="1.40" rx="0.70" fill="none" stroke="#b4c4f6" stroke-width="0.35"/><rect x="385.98" y="43.30" width="5.88" height="1.20" rx="0.60" fill="#dbe9fd"/></g>
<g><path d="M378.90,59.00 Q379.88,56.88 385.40,56.50 Q390.92,56.88 391.90,59.00 Q390.92,61.12 385.40,61.50 Q379.88,61.12 378.90,59.00Z" fill="#fff" stroke="#7f78e6" stroke-width="0.55"/><path d="M380.10,59.00 Q380.89,57.81 385.40,57.60 Q389.90,57.81 390.70,59.00 Q389.90,60.19 385.40,60.40 Q380.89,60.19 380.10,59.00Z" fill="#7fb0f4"/><path d="M380.80,59.00 Q381.26,58.23 385.40,58.15 Q389.54,58.23 390.00,59.00 Q389.54,59.77 385.40,59.85 Q381.26,59.77 380.80,59.00Z" fill="#b4e9f6"/></g>
<g><rect x="399.20" y="56.20" width="14.00" height="4.00" rx="2.00" fill="#fff" stroke="#7f78e6" stroke-width="0.55"/><rect x="401.00" y="57.50" width="10.40" height="1.40" rx="0.70" fill="none" stroke="#b4c4f6" stroke-width="0.35"/><rect x="404.38" y="57.60" width="5.88" height="1.20" rx="0.60" fill="#dbe9fd"/></g>
<g><path d="M389.95,73.40 Q390.81,71.28 395.70,70.90 Q400.59,71.28 401.45,73.40 Q400.59,75.53 395.70,75.90 Q390.81,75.53 389.95,73.40Z" fill="#fff" stroke="#7f78e6" stroke-width="0.55"/><path d="M391.15,73.40 Q391.83,72.21 395.70,72.00 Q399.57,72.21 400.25,73.40 Q399.57,74.59 395.70,74.80 Q391.83,74.59 391.15,73.40Z" fill="#7fb0f4"/><path d="M391.85,73.40 Q392.24,72.64 395.70,72.55 Q399.16,72.64 399.55,73.40 Q399.16,74.17 395.70,74.25 Q392.24,74.17 391.85,73.40Z" fill="#b4e9f6"/></g>
<g><path d="M420.10,72.10 Q420.78,70.19 424.60,69.85 Q428.43,70.19 429.10,72.10 Q428.43,74.01 424.60,74.35 Q420.78,74.01 420.10,72.10Z" fill="#fff" stroke="#7f78e6" stroke-width="0.55"/><path d="M421.30,72.10 Q421.80,71.12 424.60,70.95 Q427.41,71.12 427.90,72.10 Q427.41,73.08 424.60,73.25 Q421.80,73.08 421.30,72.10Z" fill="#7fb0f4"/><path d="M422.00,72.10 Q422.26,71.56 424.60,71.50 Q426.94,71.56 427.20,72.10 Q426.94,72.64 424.60,72.70 Q422.26,72.64 422.00,72.10Z" fill="#b4e9f6"/></g>
<g><path d="M363.90,85.60 Q365.02,83.80 367.90,83.10 Q370.78,83.80 371.90,85.60 Q370.78,87.40 367.90,88.10 Q365.02,87.40 363.90,85.60Z" fill="#fff" stroke="#7f78e6" stroke-width="0.55"/><path d="M365.10,85.60 Q365.52,84.41 367.90,84.20 Q370.28,84.41 370.70,85.60 Q370.28,86.79 367.90,87.00 Q365.52,86.79 365.10,85.60Z" fill="#4f8ff0"/><path d="M365.80,85.60 Q366.01,84.83 367.90,84.75 Q369.79,84.83 370.00,85.60 Q369.79,86.36 367.90,86.45 Q366.01,86.36 365.80,85.60Z" fill="#8df0ea"/><ellipse cx="367.90" cy="85.60" rx="0.55" ry="0.55" fill="#aee05a"/></g>
<g><path d="M401.80,86.00 Q402.40,83.88 405.80,83.50 Q409.20,83.88 409.80,86.00 Q409.20,88.12 405.80,88.50 Q402.40,88.12 401.80,86.00Z" fill="#fff" stroke="#7f78e6" stroke-width="0.55"/><path d="M403.00,86.00 Q403.42,84.81 405.80,84.60 Q408.18,84.81 408.60,86.00 Q408.18,87.19 405.80,87.40 Q403.42,87.19 403.00,86.00Z" fill="#7fb0f4"/><path d="M403.70,86.00 Q403.91,85.23 405.80,85.15 Q407.69,85.23 407.90,86.00 Q407.69,86.77 405.80,86.85 Q403.91,86.77 403.70,86.00Z" fill="#b4e9f6"/></g>
<g><path d="M437.35,82.30 Q437.98,80.50 439.60,79.80 Q441.22,80.50 441.85,82.30 Q441.22,84.10 439.60,84.80 Q437.98,84.10 437.35,82.30Z" fill="#fff" stroke="#7f78e6" stroke-width="0.55"/><path d="M438.55,82.30 Q438.71,81.11 439.60,80.90 Q440.49,81.11 440.65,82.30 Q440.49,83.49 439.60,83.70 Q438.71,83.49 438.55,82.30Z" fill="#4f8ff0"/><path d="M439.10,82.30 Q439.15,81.53 439.60,81.45 Q440.05,81.53 440.10,82.30 Q440.05,83.06 439.60,83.15 Q439.15,83.06 439.10,82.30Z" fill="#8df0ea"/><ellipse cx="439.60" cy="82.30" rx="0.55" ry="0.55" fill="#aee05a"/></g>
<g><path d="M387.00,91.80 Q387.70,90.00 389.50,89.30 Q391.30,90.00 392.00,91.80 Q391.30,93.60 389.50,94.30 Q387.70,93.60 387.00,91.80Z" fill="#fff" stroke="#7f78e6" stroke-width="0.55"/><path d="M388.20,91.80 Q388.39,90.61 389.50,90.40 Q390.61,90.61 390.80,91.80 Q390.61,92.99 389.50,93.20 Q388.39,92.99 388.20,91.80Z" fill="#4f8ff0"/><path d="M388.90,91.80 Q388.96,91.03 389.50,90.95 Q390.04,91.03 390.10,91.80 Q390.04,92.56 389.50,92.65 Q388.96,92.56 388.90,91.80Z" fill="#8df0ea"/><ellipse cx="389.50" cy="91.80" rx="0.55" ry="0.55" fill="#aee05a"/></g>
<g><rect x="388.75" y="93.00" width="2.50" height="5.00" rx="2.50" fill="#fff" stroke="#7f78e6" stroke-width="0.55"/><rect x="389.68" y="94.40" width="1.05" height="2.20" rx="1.10" fill="#dbe9fd"/></g>
<g><path d="M387.30,99.00 Q388.14,97.20 390.30,96.50 Q392.46,97.20 393.30,99.00 Q392.46,100.80 390.30,101.50 Q388.14,100.80 387.30,99.00Z" fill="#fff" stroke="#7f78e6" stroke-width="0.55"/><path d="M388.50,99.00 Q388.77,97.81 390.30,97.60 Q391.83,97.81 392.10,99.00 Q391.83,100.19 390.30,100.40 Q388.77,100.19 388.50,99.00Z" fill="#4f8ff0"/><path d="M389.20,99.00 Q389.31,98.23 390.30,98.15 Q391.29,98.23 391.40,99.00 Q391.29,99.77 390.30,99.85 Q389.31,99.77 389.20,99.00Z" fill="#8df0ea"/><ellipse cx="390.30" cy="99.00" rx="0.55" ry="0.55" fill="#aee05a"/></g>
<g><path d="M375.05,96.20 Q375.61,94.08 378.80,93.70 Q381.99,94.08 382.55,96.20 Q381.99,98.33 378.80,98.70 Q375.61,98.33 375.05,96.20Z" fill="#fff" stroke="#7f78e6" stroke-width="0.55"/><path d="M376.25,96.20 Q376.63,95.01 378.80,94.80 Q380.97,95.01 381.35,96.20 Q380.97,97.39 378.80,97.60 Q376.63,97.39 376.25,96.20Z" fill="#7fb0f4"/><path d="M376.95,96.20 Q377.13,95.44 378.80,95.35 Q380.47,95.44 380.65,96.20 Q380.47,96.97 378.80,97.05 Q377.13,96.97 376.95,96.20Z" fill="#b4e9f6"/></g>
<g><path d="M429.70,93.50 Q430.26,90.62 431.70,89.50 Q433.14,90.62 433.70,93.50 Q433.14,96.38 431.70,97.50 Q430.26,96.38 429.70,93.50Z" fill="#fff" stroke="#7f78e6" stroke-width="0.55"/><path d="M430.90,93.50 Q431.02,91.03 431.70,90.60 Q432.38,91.03 432.50,93.50 Q432.38,95.97 431.70,96.40 Q431.02,95.97 430.90,93.50Z" fill="#4f8ff0"/><path d="M431.20,93.50 Q431.25,91.39 431.70,91.15 Q432.15,91.39 432.20,93.50 Q432.15,95.61 431.70,95.85 Q431.25,95.61 431.20,93.50Z" fill="#8df0ea"/><ellipse cx="431.70" cy="93.50" rx="0.55" ry="0.55" fill="#aee05a"/></g>
<g><path d="M451.40,81.80 Q452.24,79.28 454.40,78.30 Q456.56,79.28 457.40,81.80 Q456.56,84.32 454.40,85.30 Q452.24,84.32 451.40,81.80Z" fill="#fff" stroke="#7f78e6" stroke-width="0.55"/><path d="M452.60,81.80 Q452.87,79.76 454.40,79.40 Q455.93,79.76 456.20,81.80 Q455.93,83.84 454.40,84.20 Q452.87,83.84 452.60,81.80Z" fill="#4f8ff0"/><path d="M453.30,81.80 Q453.41,80.13 454.40,79.95 Q455.39,80.13 455.50,81.80 Q455.39,83.47 454.40,83.65 Q453.41,83.47 453.30,81.80Z" fill="#8df0ea"/><ellipse cx="454.40" cy="81.80" rx="0.80" ry="0.80" fill="#aee05a"/></g>
<g><path d="M465.10,80.90 Q465.70,78.78 469.10,78.40 Q472.50,78.78 473.10,80.90 Q472.50,83.03 469.10,83.40 Q465.70,83.03 465.10,80.90Z" fill="#fff" stroke="#7f78e6" stroke-width="0.55"/><path d="M466.30,80.90 Q466.72,79.71 469.10,79.50 Q471.48,79.71 471.90,80.90 Q471.48,82.09 469.10,82.30 Q466.72,82.09 466.30,80.90Z" fill="#7fb0f4"/><path d="M467.00,80.90 Q467.21,80.14 469.10,80.05 Q470.99,80.14 471.20,80.90 Q470.99,81.67 469.10,81.75 Q467.21,81.67 467.00,80.90Z" fill="#b4e9f6"/></g>
<g><path d="M477.65,85.90 Q478.21,83.56 481.40,83.15 Q484.59,83.56 485.15,85.90 Q484.59,88.24 481.40,88.65 Q478.21,88.24 477.65,85.90Z" fill="#fff" stroke="#7f78e6" stroke-width="0.55"/><path d="M478.85,85.90 Q479.23,84.50 481.40,84.25 Q483.57,84.50 483.95,85.90 Q483.57,87.30 481.40,87.55 Q479.23,87.30 478.85,85.90Z" fill="#7fb0f4"/><path d="M479.55,85.90 Q479.73,84.91 481.40,84.80 Q483.06,84.91 483.25,85.90 Q483.06,86.89 481.40,87.00 Q479.73,86.89 479.55,85.90Z" fill="#b4e9f6"/></g>
<g><path d="M490.50,91.10 Q491.10,88.76 494.50,88.35 Q497.90,88.76 498.50,91.10 Q497.90,93.44 494.50,93.85 Q491.10,93.44 490.50,91.10Z" fill="#fff" stroke="#7f78e6" stroke-width="0.55"/><path d="M491.70,91.10 Q492.12,89.70 494.50,89.45 Q496.88,89.70 497.30,91.10 Q496.88,92.50 494.50,92.75 Q492.12,92.50 491.70,91.10Z" fill="#7fb0f4"/><path d="M492.40,91.10 Q492.61,90.11 494.50,90.00 Q496.39,90.11 496.60,91.10 Q496.39,92.09 494.50,92.20 Q492.61,92.09 492.40,91.10Z" fill="#b4e9f6"/></g>
<g><path d="M481.25,96.80 Q481.88,93.92 483.50,92.80 Q485.12,93.92 485.75,96.80 Q485.12,99.68 483.50,100.80 Q481.88,99.68 481.25,96.80Z" fill="#fff" stroke="#7f78e6" stroke-width="0.55"/><path d="M482.45,96.80 Q482.61,94.33 483.50,93.90 Q484.39,94.33 484.55,96.80 Q484.39,99.27 483.50,99.70 Q482.61,99.27 482.45,96.80Z" fill="#4f8ff0"/><path d="M483.00,96.80 Q483.05,94.69 483.50,94.45 Q483.95,94.69 484.00,96.80 Q483.95,98.91 483.50,99.15 Q483.05,98.91 483.00,96.80Z" fill="#8df0ea"/><ellipse cx="483.50" cy="96.80" rx="0.55" ry="0.55" fill="#aee05a"/></g>
<g><path d="M439.95,104.20 Q441.00,102.04 443.70,101.20 Q446.40,102.04 447.45,104.20 Q446.40,106.36 443.70,107.20 Q441.00,106.36 439.95,104.20Z" fill="#fff" stroke="#7f78e6" stroke-width="0.55"/><path d="M441.15,104.20 Q441.53,102.59 443.70,102.30 Q445.87,102.59 446.25,104.20 Q445.87,105.81 443.70,106.10 Q441.53,105.81 441.15,104.20Z" fill="#4f8ff0"/><path d="M441.85,104.20 Q442.03,102.98 443.70,102.85 Q445.37,102.98 445.55,104.20 Q445.37,105.42 443.70,105.55 Q442.03,105.42 441.85,104.20Z" fill="#8df0ea"/><ellipse cx="443.70" cy="104.20" rx="0.80" ry="0.80" fill="#aee05a"/></g>
<g><path d="M456.20,103.50 Q456.90,101.70 458.70,101.00 Q460.50,101.70 461.20,103.50 Q460.50,105.30 458.70,106.00 Q456.90,105.30 456.20,103.50Z" fill="#fff" stroke="#7f78e6" stroke-width="0.55"/><path d="M457.40,103.50 Q457.59,102.31 458.70,102.10 Q459.81,102.31 460.00,103.50 Q459.81,104.69 458.70,104.90 Q457.59,104.69 457.40,103.50Z" fill="#4f8ff0"/><path d="M458.10,103.50 Q458.16,102.73 458.70,102.65 Q459.24,102.73 459.30,103.50 Q459.24,104.27 458.70,104.35 Q458.16,104.27 458.10,103.50Z" fill="#8df0ea"/><ellipse cx="458.70" cy="103.50" rx="0.55" ry="0.55" fill="#aee05a"/></g>
<g><path d="M469.95,103.40 Q470.86,101.42 473.20,100.65 Q475.54,101.42 476.45,103.40 Q475.54,105.38 473.20,106.15 Q470.86,105.38 469.95,103.40Z" fill="#fff" stroke="#7f78e6" stroke-width="0.55"/><path d="M471.15,103.40 Q471.46,102.00 473.20,101.75 Q474.94,102.00 475.25,103.40 Q474.94,104.80 473.20,105.05 Q471.46,104.80 471.15,103.40Z" fill="#4f8ff0"/><path d="M471.85,103.40 Q471.99,102.41 473.20,102.30 Q474.41,102.41 474.55,103.40 Q474.41,104.39 473.20,104.50 Q471.99,104.39 471.85,103.40Z" fill="#8df0ea"/><ellipse cx="473.20" cy="103.40" rx="0.55" ry="0.55" fill="#aee05a"/></g>
<g><path d="M366.80,107.10 Q367.55,104.76 371.80,104.35 Q376.05,104.76 376.80,107.10 Q376.05,109.44 371.80,109.85 Q367.55,109.44 366.80,107.10Z" fill="#fff" stroke="#7f78e6" stroke-width="0.55"/><path d="M368.00,107.10 Q368.57,105.70 371.80,105.45 Q375.03,105.70 375.60,107.10 Q375.03,108.50 371.80,108.75 Q368.57,108.50 368.00,107.10Z" fill="#7fb0f4"/><path d="M368.70,107.10 Q369.01,106.11 371.80,106.00 Q374.59,106.11 374.90,107.10 Q374.59,108.09 371.80,108.20 Q369.01,108.09 368.70,107.10Z" fill="#b4e9f6"/></g>
<g><path d="M405.05,103.30 Q406.10,100.78 408.80,99.80 Q411.50,100.78 412.55,103.30 Q411.50,105.82 408.80,106.80 Q406.10,105.82 405.05,103.30Z" fill="#fff" stroke="#7f78e6" stroke-width="0.55"/><path d="M406.25,103.30 Q406.63,101.26 408.80,100.90 Q410.97,101.26 411.35,103.30 Q410.97,105.34 408.80,105.70 Q406.63,105.34 406.25,103.30Z" fill="#4f8ff0"/><path d="M406.95,103.30 Q407.13,101.63 408.80,101.45 Q410.47,101.63 410.65,103.30 Q410.47,104.97 408.80,105.15 Q407.13,104.97 406.95,103.30Z" fill="#8df0ea"/><ellipse cx="408.80" cy="103.30" rx="1.30" ry="1.30" fill="#aee05a"/></g>
<g><path d="M398.15,117.10 Q399.01,114.97 403.90,114.60 Q408.79,114.97 409.65,117.10 Q408.79,119.22 403.90,119.60 Q399.01,119.22 398.15,117.10Z" fill="#fff" stroke="#7f78e6" stroke-width="0.55"/><path d="M399.35,117.10 Q400.03,115.91 403.90,115.70 Q407.77,115.91 408.45,117.10 Q407.77,118.29 403.90,118.50 Q400.03,118.29 399.35,117.10Z" fill="#7fb0f4"/><path d="M400.05,117.10 Q400.44,116.33 403.90,116.25 Q407.36,116.33 407.75,117.10 Q407.36,117.86 403.90,117.95 Q400.44,117.86 400.05,117.10Z" fill="#b4e9f6"/></g>
<g><path d="M427.75,115.60 Q428.39,113.47 432.00,113.10 Q435.61,113.47 436.25,115.60 Q435.61,117.72 432.00,118.10 Q428.39,117.72 427.75,115.60Z" fill="#fff" stroke="#7f78e6" stroke-width="0.55"/><path d="M428.95,115.60 Q429.41,114.41 432.00,114.20 Q434.59,114.41 435.05,115.60 Q434.59,116.79 432.00,117.00 Q429.41,116.79 428.95,115.60Z" fill="#7fb0f4"/><path d="M429.65,115.60 Q429.88,114.83 432.00,114.75 Q434.12,114.83 434.35,115.60 Q434.12,116.36 432.00,116.45 Q429.88,116.36 429.65,115.60Z" fill="#b4e9f6"/></g>
<g><rect x="391.50" y="129.00" width="14.00" height="6.00" rx="3.00" fill="#fff" stroke="#7f78e6" stroke-width="0.55"/><rect x="393.30" y="130.30" width="10.40" height="3.40" rx="1.70" fill="none" stroke="#b4c4f6" stroke-width="0.35"/><rect x="396.68" y="130.40" width="5.88" height="3.20" rx="1.60" fill="#dbe9fd"/></g>
<g><rect x="413.95" y="129.00" width="10.50" height="5.00" rx="2.50" fill="#fff" stroke="#7f78e6" stroke-width="0.55"/><rect x="415.75" y="130.30" width="6.90" height="2.40" rx="1.20" fill="none" stroke="#b4c4f6" stroke-width="0.35"/><rect x="417.83" y="130.40" width="4.41" height="2.20" rx="1.10" fill="#dbe9fd"/></g>
<g><rect x="387.40" y="144.40" width="14.00" height="5.00" rx="2.50" fill="#fff" stroke="#7f78e6" stroke-width="0.55"/><rect x="389.20" y="145.70" width="10.40" height="2.40" rx="1.20" fill="none" stroke="#b4c4f6" stroke-width="0.35"/><rect x="392.58" y="145.80" width="5.88" height="2.20" rx="1.10" fill="#dbe9fd"/></g>
<g><rect x="400.90" y="144.40" width="13.00" height="5.00" rx="2.50" fill="#fff" stroke="#7f78e6" stroke-width="0.55"/><rect x="402.70" y="145.70" width="9.40" height="2.40" rx="1.20" fill="none" stroke="#b4c4f6" stroke-width="0.35"/><rect x="405.71" y="145.80" width="5.46" height="2.20" rx="1.10" fill="#dbe9fd"/></g>
<text x="327.50" y="186.45" text-anchor="middle" font-size="8.0" fill="#303030">-20</text>
<text x="354.25" y="186.45" text-anchor="middle" font-size="8.0" fill="#303030">-15</text>
<text x="381.00" y="186.45" text-anchor="middle" font-size="8.0" fill="#303030">-10</text>
<text x="407.75" y="186.45" text-anchor="middle" font-size="8.0" fill="#303030">-5</text>
<text x="434.70" y="186.45" text-anchor="middle" font-size="8.0" fill="#303030">0</text>
<text x="461.45" y="186.45" text-anchor="middle" font-size="8.0" fill="#303030">5</text>
<text x="488.20" y="186.45" text-anchor="middle" font-size="8.0" fill="#303030">10</text>
<text x="514.95" y="186.45" text-anchor="middle" font-size="8.0" fill="#303030">15</text>
<text x="541.70" y="186.45" text-anchor="middle" font-size="8.0" fill="#303030">20</text>
<text x="324.50" y="178.65" text-anchor="end" font-size="8.0" fill="#303030">-15</text>
<text x="324.50" y="150.88" text-anchor="end" font-size="8.0" fill="#303030">-10</text>
<text x="324.50" y="123.12" text-anchor="end" font-size="8.0" fill="#303030">-5</text>
<text x="324.50" y="95.35" text-anchor="end" font-size="8.0" fill="#303030">0</text>
<text x="324.50" y="67.58" text-anchor="end" font-size="8.0" fill="#303030">5</text>
<text x="324.50" y="39.82" text-anchor="end" font-size="8.0" fill="#303030">10</text>
<text x="324.50" y="12.05" text-anchor="end" font-size="8.0" fill="#303030">15</text>
<text x="434.70" y="197.65" text-anchor="middle" font-size="8.6" textLength="95" fill="#303030">Cross-range distance(m)</text>
<text transform="translate(308.90,91.95) rotate(-90)" text-anchor="middle" font-size="8.6" textLength="73.2" fill="#303030">Range distance(m)</text>
</g>
<text x="425.3" y="222.65" text-anchor="middle" font-family="'Liberation Serif', serif" font-size="18.6" fill="#111">(<tspan font-weight="bold">b</tspan>)</text>
<g class="s">
<path d="M354.45,261.80V428.40M381.20,261.80V428.40M407.95,261.80V428.40M434.70,261.80V428.40M461.45,261.80V428.40M488.20,261.80V428.40M514.95,261.80V428.40M327.70,400.63H541.70M327.70,372.87H541.70M327.70,345.10H541.70M327.70,317.33H541.70M327.70,289.57H541.70" fill="none" stroke="#f0f0f0" stroke-width="0.6"/>
<rect x="327.70" y="261.80" width="214.00" height="166.60" fill="none" stroke="#b6b6b6" stroke-width="0.8"/>
<path d="M354.45,428.40v-2.2M354.45,261.80v2.2M381.20,428.40v-2.2M381.20,261.80v2.2M407.95,428.40v-2.2M407.95,261.80v2.2M434.70,428.40v-2.2M434.70,261.80v2.2M461.45,428.40v-2.2M461.45,261.80v2.2M488.20,428.40v-2.2M488.20,261.80v2.2M514.95,428.40v-2.2M514.95,261.80v2.2M327.70,400.63h2.2M541.70,400.63h-2.2M327.70,372.87h2.2M541.70,372.87h-2.2M327.70,345.10h2.2M541.70,345.10h-2.2M327.70,317.33h2.2M541.70,317.33h-2.2M327.70,289.57h2.2M541.70,289.57h-2.2" fill="none" stroke="#909090" stroke-width="0.7"/>
<g><rect x="371.40" y="294.70" width="28.00" height="5.00" rx="2.50" fill="#fff" stroke="#7f78e6" stroke-width="0.55"/><rect x="373.20" y="296.00" width="24.40" height="2.40" rx="1.20" fill="none" stroke="#b4c4f6" stroke-width="0.35"/><rect x="381.76" y="296.10" width="11.76" height="2.20" rx="1.10" fill="#dbe9fd"/></g>
<g><path d="M380.80,311.80 Q381.85,309.25 387.80,308.80 Q393.75,309.25 394.80,311.80 Q393.75,314.35 387.80,314.80 Q381.85,314.35 380.80,311.80Z" fill="#fff" stroke="#7f78e6" stroke-width="0.55"/><path d="M382.00,311.80 Q382.87,310.19 387.80,309.90 Q392.73,310.19 393.60,311.80 Q392.73,313.42 387.80,313.70 Q382.87,313.42 382.00,311.80Z" fill="#7fb0f4"/><path d="M382.70,311.80 Q383.21,310.59 387.80,310.45 Q392.39,310.59 392.90,311.80 Q392.39,313.01 387.80,313.15 Q383.21,313.01 382.70,311.80Z" fill="#b4e9f6"/></g>
<g><path d="M402.05,311.20 Q402.91,309.29 407.80,308.95 Q412.69,309.29 413.55,311.20 Q412.69,313.11 407.80,313.45 Q402.91,313.11 402.05,311.20Z" fill="#fff" stroke="#7f78e6" stroke-width="0.55"/><path d="M403.25,311.20 Q403.93,310.22 407.80,310.05 Q411.67,310.22 412.35,311.20 Q411.67,312.18 407.80,312.35 Q403.93,312.18 403.25,311.20Z" fill="#7fb0f4"/><path d="M403.95,311.20 Q404.34,310.66 407.80,310.60 Q411.26,310.66 411.65,311.20 Q411.26,311.74 407.80,311.80 Q404.34,311.74 403.95,311.20Z" fill="#b4e9f6"/></g>
<g><path d="M393.10,326.40 Q394.36,324.24 397.60,323.40 Q400.84,324.24 402.10,326.40 Q400.84,328.56 397.60,329.40 Q394.36,328.56 393.10,326.40Z" fill="#fff" stroke="#7f78e6" stroke-width="0.55"/><path d="M394.30,326.40 Q394.80,324.78 397.60,324.50 Q400.41,324.78 400.90,326.40 Q400.41,328.01 397.60,328.30 Q394.80,328.01 394.30,326.40Z" fill="#4f8ff0"/><path d="M395.00,326.40 Q395.26,325.19 397.60,325.05 Q399.94,325.19 400.20,326.40 Q399.94,327.61 397.60,327.75 Q395.26,327.61 395.00,326.40Z" fill="#8df0ea"/><ellipse cx="397.60" cy="326.40" rx="0.80" ry="0.80" fill="#aee05a"/></g>
<g><path d="M420.30,325.20 Q420.90,323.07 424.30,322.70 Q427.70,323.07 428.30,325.20 Q427.70,327.32 424.30,327.70 Q420.90,327.32 420.30,325.20Z" fill="#fff" stroke="#7f78e6" stroke-width="0.55"/><path d="M421.50,325.20 Q421.92,324.01 424.30,323.80 Q426.68,324.01 427.10,325.20 Q426.68,326.39 424.30,326.60 Q421.92,326.39 421.50,325.20Z" fill="#7fb0f4"/><path d="M422.20,325.20 Q422.41,324.44 424.30,324.35 Q426.19,324.44 426.40,325.20 Q426.19,325.96 424.30,326.05 Q422.41,325.96 422.20,325.20Z" fill="#b4e9f6"/></g>
<g><path d="M367.50,338.60 Q368.62,336.62 371.50,335.85 Q374.38,336.62 375.50,338.60 Q374.38,340.58 371.50,341.35 Q368.62,340.58 367.50,338.60Z" fill="#fff" stroke="#7f78e6" stroke-width="0.55"/><path d="M368.70,338.60 Q369.12,337.20 371.50,336.95 Q373.88,337.20 374.30,338.60 Q373.88,340.00 371.50,340.25 Q369.12,340.00 368.70,338.60Z" fill="#4f8ff0"/><path d="M369.40,338.60 Q369.61,337.61 371.50,337.50 Q373.39,337.61 373.60,338.60 Q373.39,339.59 371.50,339.70 Q369.61,339.59 369.40,338.60Z" fill="#8df0ea"/><ellipse cx="371.50" cy="338.60" rx="0.55" ry="0.55" fill="#aee05a"/></g>
<g><path d="M404.10,339.00 Q404.94,337.02 407.10,336.25 Q409.26,337.02 410.10,339.00 Q409.26,340.98 407.10,341.75 Q404.94,340.98 404.10,339.00Z" fill="#fff" stroke="#7f78e6" stroke-width="0.55"/><path d="M405.30,339.00 Q405.57,337.60 407.10,337.35 Q408.63,337.60 408.90,339.00 Q408.63,340.40 407.10,340.65 Q405.57,340.40 405.30,339.00Z" fill="#4f8ff0"/><path d="M406.00,339.00 Q406.11,338.01 407.10,337.90 Q408.09,338.01 408.20,339.00 Q408.09,339.99 407.10,340.10 Q406.11,339.99 406.00,339.00Z" fill="#8df0ea"/><ellipse cx="407.10" cy="339.00" rx="0.55" ry="0.55" fill="#aee05a"/></g>
<g><path d="M434.50,334.90 Q435.76,333.10 439.00,332.40 Q442.24,333.10 443.50,334.90 Q442.24,336.70 439.00,337.40 Q435.76,336.70 434.50,334.90Z" fill="#fff" stroke="#7f78e6" stroke-width="0.55"/><path d="M435.70,334.90 Q436.19,333.71 439.00,333.50 Q441.81,333.71 442.30,334.90 Q441.81,336.09 439.00,336.30 Q436.19,336.09 435.70,334.90Z" fill="#4f8ff0"/><path d="M436.40,334.90 Q436.66,334.13 439.00,334.05 Q441.34,334.13 441.60,334.90 Q441.34,335.66 439.00,335.75 Q436.66,335.66 436.40,334.90Z" fill="#8df0ea"/><ellipse cx="439.00" cy="334.90" rx="0.55" ry="0.55" fill="#aee05a"/></g>
<g><rect x="445.10" y="333.90" width="5.00" height="1.60" rx="0.80" fill="#fff" stroke="#7f78e6" stroke-width="0.55"/></g>
<g><path d="M388.90,344.90 Q389.74,342.74 391.90,341.90 Q394.06,342.74 394.90,344.90 Q394.06,347.06 391.90,347.90 Q389.74,347.06 388.90,344.90Z" fill="#fff" stroke="#7f78e6" stroke-width="0.55"/><path d="M390.10,344.90 Q390.37,343.28 391.90,343.00 Q393.43,343.28 393.70,344.90 Q393.43,346.51 391.90,346.80 Q390.37,346.51 390.10,344.90Z" fill="#4f8ff0"/><path d="M390.80,344.90 Q390.91,343.69 391.90,343.55 Q392.89,343.69 393.00,344.90 Q392.89,346.11 391.90,346.25 Q390.91,346.11 390.80,344.90Z" fill="#8df0ea"/><ellipse cx="391.90" cy="344.90" rx="0.80" ry="0.80" fill="#aee05a"/></g>
<g><rect x="391.05" y="346.00" width="2.50" height="5.00" rx="2.50" fill="#fff" stroke="#7f78e6" stroke-width="0.55"/><rect x="391.98" y="347.40" width="1.05" height="2.20" rx="1.10" fill="#dbe9fd"/></g>
<g><path d="M389.70,352.00 Q390.54,350.20 392.70,349.50 Q394.86,350.20 395.70,352.00 Q394.86,353.80 392.70,354.50 Q390.54,353.80 389.70,352.00Z" fill="#fff" stroke="#7f78e6" stroke-width="0.55"/><path d="M390.90,352.00 Q391.17,350.81 392.70,350.60 Q394.23,350.81 394.50,352.00 Q394.23,353.19 392.70,353.40 Q391.17,353.19 390.90,352.00Z" fill="#4f8ff0"/><path d="M391.60,352.00 Q391.71,351.24 392.70,351.15 Q393.69,351.24 393.80,352.00 Q393.69,352.76 392.70,352.85 Q391.71,352.76 391.60,352.00Z" fill="#8df0ea"/><ellipse cx="392.70" cy="352.00" rx="0.55" ry="0.55" fill="#aee05a"/></g>
<g><path d="M377.00,349.20 Q378.12,347.22 381.00,346.45 Q383.88,347.22 385.00,349.20 Q383.88,351.18 381.00,351.95 Q378.12,351.18 377.00,349.20Z" fill="#fff" stroke="#7f78e6" stroke-width="0.55"/><path d="M378.20,349.20 Q378.62,347.80 381.00,347.55 Q383.38,347.80 383.80,349.20 Q383.38,350.60 381.00,350.85 Q378.62,350.60 378.20,349.20Z" fill="#4f8ff0"/><path d="M378.90,349.20 Q379.11,348.21 381.00,348.10 Q382.89,348.21 383.10,349.20 Q382.89,350.19 381.00,350.30 Q379.11,350.19 378.90,349.20Z" fill="#8df0ea"/><ellipse cx="381.00" cy="349.20" rx="0.55" ry="0.55" fill="#aee05a"/></g>
<g><path d="M429.70,346.90 Q430.26,344.02 431.70,342.90 Q433.14,344.02 433.70,346.90 Q433.14,349.78 431.70,350.90 Q430.26,349.78 429.70,346.90Z" fill="#fff" stroke="#7f78e6" stroke-width="0.55"/><path d="M430.90,346.90 Q431.02,344.44 431.70,344.00 Q432.38,344.44 432.50,346.90 Q432.38,349.36 431.70,349.80 Q431.02,349.36 430.90,346.90Z" fill="#4f8ff0"/><path d="M431.20,346.90 Q431.25,344.78 431.70,344.55 Q432.15,344.78 432.20,346.90 Q432.15,349.01 431.70,349.25 Q431.25,349.01 431.20,346.90Z" fill="#8df0ea"/><ellipse cx="431.70" cy="346.90" rx="0.55" ry="0.55" fill="#aee05a"/></g>
<g><path d="M447.80,334.60 Q449.06,332.80 452.30,332.10 Q455.54,332.80 456.80,334.60 Q455.54,336.40 452.30,337.10 Q449.06,336.40 447.80,334.60Z" fill="#fff" stroke="#7f78e6" stroke-width="0.55"/><path d="M449.00,334.60 Q449.50,333.41 452.30,333.20 Q455.11,333.41 455.60,334.60 Q455.11,335.79 452.30,336.00 Q449.50,335.79 449.00,334.60Z" fill="#4f8ff0"/><path d="M449.70,334.60 Q449.96,333.84 452.30,333.75 Q454.64,333.84 454.90,334.60 Q454.64,335.37 452.30,335.45 Q449.96,335.37 449.70,334.60Z" fill="#8df0ea"/><ellipse cx="452.30" cy="334.60" rx="0.55" ry="0.55" fill="#aee05a"/></g>
<g><path d="M463.70,333.90 Q464.38,331.77 468.20,331.40 Q472.02,331.77 472.70,333.90 Q472.02,336.02 468.20,336.40 Q464.38,336.02 463.70,333.90Z" fill="#fff" stroke="#7f78e6" stroke-width="0.55"/><path d="M464.90,333.90 Q465.39,332.71 468.20,332.50 Q471.00,332.71 471.50,333.90 Q471.00,335.09 468.20,335.30 Q465.39,335.09 464.90,333.90Z" fill="#7fb0f4"/><path d="M465.60,333.90 Q465.86,333.13 468.20,333.05 Q470.54,333.13 470.80,333.90 Q470.54,334.66 468.20,334.75 Q465.86,334.66 465.60,333.90Z" fill="#b4e9f6"/></g>
<g><path d="M475.85,339.20 Q476.62,337.22 478.60,336.45 Q480.58,337.22 481.35,339.20 Q480.58,341.18 478.60,341.95 Q476.62,341.18 475.85,339.20Z" fill="#fff" stroke="#7f78e6" stroke-width="0.55"/><path d="M477.05,339.20 Q477.28,337.80 478.60,337.55 Q479.92,337.80 480.15,339.20 Q479.92,340.60 478.60,340.85 Q477.28,340.60 477.05,339.20Z" fill="#4f8ff0"/><path d="M477.75,339.20 Q477.84,338.21 478.60,338.10 Q479.37,338.21 479.45,339.20 Q479.37,340.19 478.60,340.30 Q477.84,340.19 477.75,339.20Z" fill="#8df0ea"/><ellipse cx="478.60" cy="339.20" rx="0.55" ry="0.55" fill="#aee05a"/></g>
<g><path d="M488.20,344.10 Q488.90,342.12 490.70,341.35 Q492.50,342.12 493.20,344.10 Q492.50,346.08 490.70,346.85 Q488.90,346.08 488.20,344.10Z" fill="#fff" stroke="#7f78e6" stroke-width="0.55"/><path d="M489.40,344.10 Q489.59,342.70 490.70,342.45 Q491.81,342.70 492.00,344.10 Q491.81,345.50 490.70,345.75 Q489.59,345.50 489.40,344.10Z" fill="#4f8ff0"/><path d="M490.10,344.10 Q490.16,343.11 490.70,343.00 Q491.24,343.11 491.30,344.10 Q491.24,345.09 490.70,345.20 Q490.16,345.09 490.10,344.10Z" fill="#8df0ea"/><ellipse cx="490.70" cy="344.10" rx="0.55" ry="0.55" fill="#aee05a"/></g>
<g><path d="M478.10,349.80 Q478.80,347.10 480.60,346.05 Q482.40,347.10 483.10,349.80 Q482.40,352.50 480.60,353.55 Q478.80,352.50 478.10,349.80Z" fill="#fff" stroke="#7f78e6" stroke-width="0.55"/><path d="M479.30,349.80 Q479.50,347.55 480.60,347.15 Q481.71,347.55 481.90,349.80 Q481.71,352.05 480.60,352.45 Q479.50,352.05 479.30,349.80Z" fill="#4f8ff0"/><path d="M480.00,349.80 Q480.06,347.91 480.60,347.70 Q481.14,347.91 481.20,349.80 Q481.14,351.69 480.60,351.90 Q480.06,351.69 480.00,349.80Z" fill="#8df0ea"/><ellipse cx="480.60" cy="349.80" rx="0.55" ry="0.55" fill="#aee05a"/></g>
<g><path d="M438.40,357.50 Q439.52,355.70 442.40,355.00 Q445.28,355.70 446.40,357.50 Q445.28,359.30 442.40,360.00 Q439.52,359.30 438.40,357.50Z" fill="#fff" stroke="#7f78e6" stroke-width="0.55"/><path d="M439.60,357.50 Q440.02,356.31 442.40,356.10 Q444.78,356.31 445.20,357.50 Q444.78,358.69 442.40,358.90 Q440.02,358.69 439.60,357.50Z" fill="#4f8ff0"/><path d="M440.30,357.50 Q440.51,356.74 442.40,356.65 Q444.29,356.74 444.50,357.50 Q444.29,358.26 442.40,358.35 Q440.51,358.26 440.30,357.50Z" fill="#8df0ea"/><ellipse cx="442.40" cy="357.50" rx="0.55" ry="0.55" fill="#aee05a"/></g>
<g><path d="M452.95,356.50 Q454.00,354.52 456.70,353.75 Q459.40,354.52 460.45,356.50 Q459.40,358.48 456.70,359.25 Q454.00,358.48 452.95,356.50Z" fill="#fff" stroke="#7f78e6" stroke-width="0.55"/><path d="M454.15,356.50 Q454.53,355.10 456.70,354.85 Q458.87,355.10 459.25,356.50 Q458.87,357.90 456.70,358.15 Q454.53,357.90 454.15,356.50Z" fill="#4f8ff0"/><path d="M454.85,356.50 Q455.03,355.51 456.70,355.40 Q458.37,355.51 458.55,356.50 Q458.37,357.49 456.70,357.60 Q455.03,357.49 454.85,356.50Z" fill="#8df0ea"/><ellipse cx="456.70" cy="356.50" rx="0.55" ry="0.55" fill="#aee05a"/></g>
<g><path d="M467.05,356.50 Q468.10,354.52 470.80,353.75 Q473.50,354.52 474.55,356.50 Q473.50,358.48 470.80,359.25 Q468.10,358.48 467.05,356.50Z" fill="#fff" stroke="#7f78e6" stroke-width="0.55"/><path d="M468.25,356.50 Q468.63,355.10 470.80,354.85 Q472.97,355.10 473.35,356.50 Q472.97,357.90 470.80,358.15 Q468.63,357.90 468.25,356.50Z" fill="#4f8ff0"/><path d="M468.95,356.50 Q469.13,355.51 470.80,355.40 Q472.47,355.51 472.65,356.50 Q472.47,357.49 470.80,357.60 Q469.13,357.49 468.95,356.50Z" fill="#8df0ea"/><ellipse cx="470.80" cy="356.50" rx="0.55" ry="0.55" fill="#aee05a"/></g>
<g><rect x="459.80" y="356.10" width="8.00" height="1.40" rx="0.70" fill="#fff" stroke="#7f78e6" stroke-width="0.55"/></g>
<g><path d="M371.15,360.10 Q372.06,357.58 374.40,356.60 Q376.74,357.58 377.65,360.10 Q376.74,362.62 374.40,363.60 Q372.06,362.62 371.15,360.10Z" fill="#fff" stroke="#7f78e6" stroke-width="0.55"/><path d="M372.35,360.10 Q372.66,358.06 374.40,357.70 Q376.14,358.06 376.45,360.10 Q376.14,362.14 374.40,362.50 Q372.66,362.14 372.35,360.10Z" fill="#4f8ff0"/><path d="M373.05,360.10 Q373.19,358.44 374.40,358.25 Q375.61,358.44 375.75,360.10 Q375.61,361.77 374.40,361.95 Q373.19,361.77 373.05,360.10Z" fill="#8df0ea"/><ellipse cx="374.40" cy="360.10" rx="1.05" ry="1.05" fill="#aee05a"/></g>
<g><path d="M406.35,356.30 Q407.26,353.96 409.60,353.05 Q411.94,353.96 412.85,356.30 Q411.94,358.64 409.60,359.55 Q407.26,358.64 406.35,356.30Z" fill="#fff" stroke="#7f78e6" stroke-width="0.55"/><path d="M407.55,356.30 Q407.86,354.47 409.60,354.15 Q411.34,354.47 411.65,356.30 Q411.34,358.13 409.60,358.45 Q407.86,358.13 407.55,356.30Z" fill="#4f8ff0"/><path d="M408.25,356.30 Q408.39,354.86 409.60,354.70 Q410.81,354.86 410.95,356.30 Q410.81,357.74 409.60,357.90 Q408.39,357.74 408.25,356.30Z" fill="#8df0ea"/><ellipse cx="409.60" cy="356.30" rx="1.05" ry="1.05" fill="#aee05a"/></g>
<g><path d="M400.50,370.10 Q401.62,368.30 404.50,367.60 Q407.38,368.30 408.50,370.10 Q407.38,371.90 404.50,372.60 Q401.62,371.90 400.50,370.10Z" fill="#fff" stroke="#7f78e6" stroke-width="0.55"/><path d="M401.70,370.10 Q402.12,368.91 404.50,368.70 Q406.88,368.91 407.30,370.10 Q406.88,371.29 404.50,371.50 Q402.12,371.29 401.70,370.10Z" fill="#4f8ff0"/><path d="M402.40,370.10 Q402.61,369.34 404.50,369.25 Q406.39,369.34 406.60,370.10 Q406.39,370.87 404.50,370.95 Q402.61,370.87 402.40,370.10Z" fill="#8df0ea"/><ellipse cx="404.50" cy="370.10" rx="0.55" ry="0.55" fill="#aee05a"/></g>
<g><path d="M427.70,368.60 Q428.82,366.80 431.70,366.10 Q434.58,366.80 435.70,368.60 Q434.58,370.40 431.70,371.10 Q428.82,370.40 427.70,368.60Z" fill="#fff" stroke="#7f78e6" stroke-width="0.55"/><path d="M428.90,368.60 Q429.32,367.41 431.70,367.20 Q434.08,367.41 434.50,368.60 Q434.08,369.79 431.70,370.00 Q429.32,369.79 428.90,368.60Z" fill="#4f8ff0"/><path d="M429.60,368.60 Q429.81,367.84 431.70,367.75 Q433.59,367.84 433.80,368.60 Q433.59,369.37 431.70,369.45 Q429.81,369.37 429.60,368.60Z" fill="#8df0ea"/><ellipse cx="431.70" cy="368.60" rx="0.55" ry="0.55" fill="#aee05a"/></g>
<g><path d="M394.55,385.10 Q395.41,382.55 400.30,382.10 Q405.19,382.55 406.05,385.10 Q405.19,387.65 400.30,388.10 Q395.41,387.65 394.55,385.10Z" fill="#fff" stroke="#7f78e6" stroke-width="0.55"/><path d="M395.75,385.10 Q396.43,383.49 400.30,383.20 Q404.17,383.49 404.85,385.10 Q404.17,386.72 400.30,387.00 Q396.43,386.72 395.75,385.10Z" fill="#7fb0f4"/><path d="M396.45,385.10 Q396.84,383.89 400.30,383.75 Q403.76,383.89 404.15,385.10 Q403.76,386.31 400.30,386.45 Q396.84,386.31 396.45,385.10Z" fill="#b4e9f6"/></g>
<g><rect x="413.95" y="382.30" width="11.50" height="5.00" rx="2.50" fill="#fff" stroke="#7f78e6" stroke-width="0.55"/><rect x="415.75" y="383.60" width="7.90" height="2.40" rx="1.20" fill="none" stroke="#b4c4f6" stroke-width="0.35"/><rect x="418.20" y="383.70" width="4.83" height="2.20" rx="1.10" fill="#dbe9fd"/></g>
<g><rect x="388.70" y="397.70" width="27.00" height="5.00" rx="2.50" fill="#fff" stroke="#7f78e6" stroke-width="0.55"/><rect x="390.50" y="399.00" width="23.40" height="2.40" rx="1.20" fill="none" stroke="#b4c4f6" stroke-width="0.35"/><rect x="398.69" y="399.10" width="11.34" height="2.20" rx="1.10" fill="#dbe9fd"/></g>
<text x="327.50" y="439.60" text-anchor="middle" font-size="8.0" fill="#303030">-20</text>
<text x="354.25" y="439.60" text-anchor="middle" font-size="8.0" fill="#303030">-15</text>
<text x="381.00" y="439.60" text-anchor="middle" font-size="8.0" fill="#303030">-10</text>
<text x="407.75" y="439.60" text-anchor="middle" font-size="8.0" fill="#303030">-5</text>
<text x="434.70" y="439.60" text-anchor="middle" font-size="8.0" fill="#303030">0</text>
<text x="461.45" y="439.60" text-anchor="middle" font-size="8.0" fill="#303030">5</text>
<text x="488.20" y="439.60" text-anchor="middle" font-size="8.0" fill="#303030">10</text>
<text x="514.95" y="439.60" text-anchor="middle" font-size="8.0" fill="#303030">15</text>
<text x="541.70" y="439.60" text-anchor="middle" font-size="8.0" fill="#303030">20</text>
<text x="324.50" y="431.80" text-anchor="end" font-size="8.0" fill="#303030">-15</text>
<text x="324.50" y="404.03" text-anchor="end" font-size="8.0" fill="#303030">-10</text>
<text x="324.50" y="376.27" text-anchor="end" font-size="8.0" fill="#303030">-5</text>
<text x="324.50" y="348.50" text-anchor="end" font-size="8.0" fill="#303030">0</text>
<text x="324.50" y="320.73" text-anchor="end" font-size="8.0" fill="#303030">5</text>
<text x="324.50" y="292.97" text-anchor="end" font-size="8.0" fill="#303030">10</text>
<text x="324.50" y="265.20" text-anchor="end" font-size="8.0" fill="#303030">15</text>
<text x="434.70" y="450.80" text-anchor="middle" font-size="8.6" textLength="95" fill="#303030">Cross-range distance(m)</text>
<text transform="translate(308.90,345.10) rotate(-90)" text-anchor="middle" font-size="8.6" textLength="73.2" fill="#303030">Range distance(m)</text>
</g>
<text x="425.3" y="475.80" text-anchor="middle" font-family="'Liberation Serif', serif" font-size="18.6" fill="#111">(<tspan font-weight="bold">d</tspan>)</text>
<g class="s">
<path d="M349.55,514.40V681.00M376.30,514.40V681.00M403.05,514.40V681.00M429.80,514.40V681.00M456.55,514.40V681.00M483.30,514.40V681.00M510.05,514.40V681.00M322.80,653.23H536.80M322.80,625.47H536.80M322.80,597.70H536.80M322.80,569.93H536.80M322.80,542.17H536.80" fill="none" stroke="#f0f0f0" stroke-width="0.6"/>
<rect x="322.80" y="514.40" width="214.00" height="166.60" fill="none" stroke="#b6b6b6" stroke-width="0.8"/>
<path d="M349.55,681.00v-2.2M349.55,514.40v2.2M376.30,681.00v-2.2M376.30,514.40v2.2M403.05,681.00v-2.2M403.05,514.40v2.2M429.80,681.00v-2.2M429.80,514.40v2.2M456.55,681.00v-2.2M456.55,514.40v2.2M483.30,681.00v-2.2M483.30,514.40v2.2M510.05,681.00v-2.2M510.05,514.40v2.2M322.80,653.23h2.2M536.80,653.23h-2.2M322.80,625.47h2.2M536.80,625.47h-2.2M322.80,597.70h2.2M536.80,597.70h-2.2M322.80,569.93h2.2M536.80,569.93h-2.2M322.80,542.17h2.2M536.80,542.17h-2.2" fill="none" stroke="#909090" stroke-width="0.7"/>
<g><rect x="338.15" y="548.15" width="7.50" height="4.50" rx="2.25" fill="#fff" stroke="#7f78e6" stroke-width="0.55"/><rect x="339.95" y="549.45" width="3.90" height="1.90" rx="0.95" fill="none" stroke="#b4c4f6" stroke-width="0.35"/><rect x="340.93" y="549.55" width="3.15" height="1.70" rx="0.85" fill="#dbe9fd"/></g>
<g><rect x="347.25" y="547.70" width="7.50" height="5.00" rx="2.50" fill="#fff" stroke="#7f78e6" stroke-width="0.55"/><rect x="349.05" y="549.00" width="3.90" height="2.40" rx="1.20" fill="none" stroke="#b4c4f6" stroke-width="0.35"/><rect x="350.03" y="549.10" width="3.15" height="2.20" rx="1.10" fill="#dbe9fd"/></g>
<g><rect x="356.55" y="547.85" width="6.50" height="4.50" rx="2.25" fill="#fff" stroke="#7f78e6" stroke-width="0.55"/><rect x="358.95" y="549.25" width="2.73" height="1.70" rx="0.85" fill="#dbe9fd"/></g>
<g><rect x="364.80" y="547.70" width="10.00" height="4.00" rx="2.00" fill="#fff" stroke="#7f78e6" stroke-width="0.55"/><rect x="366.60" y="549.00" width="6.40" height="1.40" rx="0.70" fill="none" stroke="#b4c4f6" stroke-width="0.35"/><rect x="368.50" y="549.10" width="4.20" height="1.20" rx="0.60" fill="#dbe9fd"/></g>
<g><rect x="357.05" y="562.20" width="38.50" height="4.60" rx="2.30" fill="#fff" stroke="#7f78e6" stroke-width="0.55"/><rect x="358.85" y="563.50" width="34.90" height="2.00" rx="1.00" fill="none" stroke="#b4c4f6" stroke-width="0.35"/><rect x="371.30" y="563.60" width="16.17" height="1.80" rx="0.90" fill="#dbe9fd"/></g>
<g><path d="M373.80,564.50 Q374.18,562.80 376.30,562.50 Q378.43,562.80 378.80,564.50 Q378.43,566.20 376.30,566.50 Q374.18,566.20 373.80,564.50Z" fill="#fff" stroke="#7f78e6" stroke-width="0.55"/><path d="M375.00,564.50 Q375.19,563.74 376.30,563.60 Q377.41,563.74 377.60,564.50 Q377.41,565.26 376.30,565.40 Q375.19,565.26 375.00,564.50Z" fill="#7fb0f4"/><path d="M375.70,564.50 Q375.76,564.05 376.30,564.00 Q376.84,564.05 376.90,564.50 Q376.84,564.95 376.30,565.00 Q375.76,564.95 375.70,564.50Z" fill="#b4e9f6"/></g>
<g><rect x="376.30" y="576.70" width="17.00" height="5.00" rx="2.50" fill="#fff" stroke="#7f78e6" stroke-width="0.55"/><rect x="378.10" y="578.00" width="13.40" height="2.40" rx="1.20" fill="none" stroke="#b4c4f6" stroke-width="0.35"/><rect x="382.59" y="578.10" width="7.14" height="2.20" rx="1.10" fill="#dbe9fd"/></g>
<g><rect x="400.35" y="575.70" width="15.50" height="5.00" rx="2.50" fill="#fff" stroke="#7f78e6" stroke-width="0.55"/><rect x="402.15" y="577.00" width="11.90" height="2.40" rx="1.20" fill="none" stroke="#b4c4f6" stroke-width="0.35"/><rect x="406.09" y="577.10" width="6.51" height="2.20" rx="1.10" fill="#dbe9fd"/></g>
<g transform="rotate(-15 368.8 591.5)"><path d="M363.55,591.50 Q364.34,589.16 368.80,588.75 Q373.26,589.16 374.05,591.50 Q373.26,593.84 368.80,594.25 Q364.34,593.84 363.55,591.50Z" fill="#fff" stroke="#7f78e6" stroke-width="0.55"/><path d="M364.75,591.50 Q365.36,590.10 368.80,589.85 Q372.24,590.10 372.85,591.50 Q372.24,592.90 368.80,593.15 Q365.36,592.90 364.75,591.50Z" fill="#7fb0f4"/><path d="M365.45,591.50 Q365.79,590.51 368.80,590.40 Q371.81,590.51 372.15,591.50 Q371.81,592.49 368.80,592.60 Q365.79,592.49 365.45,591.50Z" fill="#b4e9f6"/></g>
<g><path d="M396.20,592.00 Q396.95,589.66 401.20,589.25 Q405.45,589.66 406.20,592.00 Q405.45,594.34 401.20,594.75 Q396.95,594.34 396.20,592.00Z" fill="#fff" stroke="#7f78e6" stroke-width="0.55"/><path d="M397.40,592.00 Q397.97,590.60 401.20,590.35 Q404.43,590.60 405.00,592.00 Q404.43,593.40 401.20,593.65 Q397.97,593.40 397.40,592.00Z" fill="#7fb0f4"/><path d="M398.10,592.00 Q398.41,591.01 401.20,590.90 Q403.99,591.01 404.30,592.00 Q403.99,592.99 401.20,593.10 Q398.41,592.99 398.10,592.00Z" fill="#b4e9f6"/></g>
<g><path d="M387.20,597.60 Q388.04,595.26 390.20,594.35 Q392.36,595.26 393.20,597.60 Q392.36,599.94 390.20,600.85 Q388.04,599.94 387.20,597.60Z" fill="#fff" stroke="#7f78e6" stroke-width="0.55"/><path d="M388.40,597.60 Q388.67,595.77 390.20,595.45 Q391.73,595.77 392.00,597.60 Q391.73,599.43 390.20,599.75 Q388.67,599.43 388.40,597.60Z" fill="#4f8ff0"/><path d="M389.10,597.60 Q389.21,596.16 390.20,596.00 Q391.19,596.16 391.30,597.60 Q391.19,599.04 390.20,599.20 Q389.21,599.04 389.10,597.60Z" fill="#8df0ea"/><ellipse cx="390.20" cy="597.60" rx="0.80" ry="0.80" fill="#aee05a"/></g>
<g transform="rotate(30 383.9 601.8)"><path d="M380.40,601.80 Q381.38,599.64 383.90,598.80 Q386.42,599.64 387.40,601.80 Q386.42,603.96 383.90,604.80 Q381.38,603.96 380.40,601.80Z" fill="#fff" stroke="#7f78e6" stroke-width="0.55"/><path d="M381.60,601.80 Q381.94,600.18 383.90,599.90 Q385.85,600.18 386.20,601.80 Q385.85,603.41 383.90,603.70 Q381.94,603.41 381.60,601.80Z" fill="#4f8ff0"/><path d="M382.30,601.80 Q382.46,600.58 383.90,600.45 Q385.34,600.58 385.50,601.80 Q385.34,603.01 383.90,603.15 Q382.46,603.01 382.30,601.80Z" fill="#8df0ea"/><ellipse cx="383.90" cy="601.80" rx="0.80" ry="0.80" fill="#aee05a"/></g>
<g transform="rotate(-20 395.3 604.4)"><path d="M392.30,604.40 Q393.14,601.88 395.30,600.90 Q397.46,601.88 398.30,604.40 Q397.46,606.92 395.30,607.90 Q393.14,606.92 392.30,604.40Z" fill="#fff" stroke="#7f78e6" stroke-width="0.55"/><path d="M393.50,604.40 Q393.77,602.36 395.30,602.00 Q396.83,602.36 397.10,604.40 Q396.83,606.44 395.30,606.80 Q393.77,606.44 393.50,604.40Z" fill="#4f8ff0"/><path d="M394.20,604.40 Q394.31,602.74 395.30,602.55 Q396.29,602.74 396.40,604.40 Q396.29,606.06 395.30,606.25 Q394.31,606.06 394.20,604.40Z" fill="#8df0ea"/><ellipse cx="395.30" cy="604.40" rx="0.80" ry="0.80" fill="#aee05a"/></g>
<g><path d="M422.10,588.40 Q422.85,586.27 427.10,585.90 Q431.35,586.27 432.10,588.40 Q431.35,590.52 427.10,590.90 Q422.85,590.52 422.10,588.40Z" fill="#fff" stroke="#7f78e6" stroke-width="0.55"/><path d="M423.30,588.40 Q423.87,587.21 427.10,587.00 Q430.33,587.21 430.90,588.40 Q430.33,589.59 427.10,589.80 Q423.87,589.59 423.30,588.40Z" fill="#7fb0f4"/><path d="M424.00,588.40 Q424.31,587.63 427.10,587.55 Q429.89,587.63 430.20,588.40 Q429.89,589.16 427.10,589.25 Q424.31,589.16 424.00,588.40Z" fill="#b4e9f6"/></g>
<g transform="rotate(10 440.0 588.2)"><path d="M434.75,588.20 Q435.54,585.44 440.00,584.95 Q444.46,585.44 445.25,588.20 Q444.46,590.96 440.00,591.45 Q435.54,590.96 434.75,588.20Z" fill="#fff" stroke="#7f78e6" stroke-width="0.55"/><path d="M435.95,588.20 Q436.56,586.37 440.00,586.05 Q443.44,586.37 444.05,588.20 Q443.44,590.03 440.00,590.35 Q436.56,590.03 435.95,588.20Z" fill="#7fb0f4"/><path d="M436.65,588.20 Q436.99,586.76 440.00,586.60 Q443.01,586.76 443.35,588.20 Q443.01,589.64 440.00,589.80 Q436.99,589.64 436.65,588.20Z" fill="#b4e9f6"/></g>
<g transform="rotate(15 452.1 587.1)"><path d="M446.85,587.10 Q447.64,584.55 452.10,584.10 Q456.56,584.55 457.35,587.10 Q456.56,589.65 452.10,590.10 Q447.64,589.65 446.85,587.10Z" fill="#fff" stroke="#7f78e6" stroke-width="0.55"/><path d="M448.05,587.10 Q448.66,585.49 452.10,585.20 Q455.54,585.49 456.15,587.10 Q455.54,588.72 452.10,589.00 Q448.66,588.72 448.05,587.10Z" fill="#7fb0f4"/><path d="M448.75,587.10 Q449.09,585.88 452.10,585.75 Q455.12,585.88 455.45,587.10 Q455.12,588.32 452.10,588.45 Q449.09,588.32 448.75,587.10Z" fill="#b4e9f6"/></g>
<g transform="rotate(15 465.3 592.0)"><path d="M460.30,592.00 Q461.05,589.88 465.30,589.50 Q469.55,589.88 470.30,592.00 Q469.55,594.12 465.30,594.50 Q461.05,594.12 460.30,592.00Z" fill="#fff" stroke="#7f78e6" stroke-width="0.55"/><path d="M461.50,592.00 Q462.07,590.81 465.30,590.60 Q468.53,590.81 469.10,592.00 Q468.53,593.19 465.30,593.40 Q462.07,593.19 461.50,592.00Z" fill="#7fb0f4"/><path d="M462.20,592.00 Q462.51,591.24 465.30,591.15 Q468.09,591.24 468.40,592.00 Q468.09,592.76 465.30,592.85 Q462.51,592.76 462.20,592.00Z" fill="#b4e9f6"/></g>
<g transform="rotate(35 478.4 596.9)"><path d="M474.90,596.90 Q475.88,594.92 478.40,594.15 Q480.92,594.92 481.90,596.90 Q480.92,598.88 478.40,599.65 Q475.88,598.88 474.90,596.90Z" fill="#fff" stroke="#7f78e6" stroke-width="0.55"/><path d="M476.10,596.90 Q476.44,595.50 478.40,595.25 Q480.35,595.50 480.70,596.90 Q480.35,598.30 478.40,598.55 Q476.44,598.30 476.10,596.90Z" fill="#4f8ff0"/><path d="M476.80,596.90 Q476.96,595.91 478.40,595.80 Q479.84,595.91 480.00,596.90 Q479.84,597.89 478.40,598.00 Q476.96,597.89 476.80,596.90Z" fill="#8df0ea"/><ellipse cx="478.40" cy="596.90" rx="0.55" ry="0.55" fill="#aee05a"/></g>
<g><path d="M468.75,603.50 Q469.94,600.80 473.00,599.75 Q476.06,600.80 477.25,603.50 Q476.06,606.20 473.00,607.25 Q469.94,606.20 468.75,603.50Z" fill="#fff" stroke="#7f78e6" stroke-width="0.55"/><path d="M469.95,603.50 Q470.41,601.25 473.00,600.85 Q475.59,601.25 476.05,603.50 Q475.59,605.75 473.00,606.15 Q470.41,605.75 469.95,603.50Z" fill="#4f8ff0"/><path d="M470.65,603.50 Q470.88,601.61 473.00,601.40 Q475.12,601.61 475.35,603.50 Q475.12,605.39 473.00,605.60 Q470.88,605.39 470.65,603.50Z" fill="#8df0ea"/><ellipse cx="473.00" cy="603.50" rx="1.55" ry="1.55" fill="#aee05a"/></g>
<g><path d="M424.95,599.70 Q425.58,597.18 427.20,596.20 Q428.82,597.18 429.45,599.70 Q428.82,602.22 427.20,603.20 Q425.58,602.22 424.95,599.70Z" fill="#fff" stroke="#7f78e6" stroke-width="0.55"/><path d="M426.15,599.70 Q426.31,597.66 427.20,597.30 Q428.09,597.66 428.25,599.70 Q428.09,601.74 427.20,602.10 Q426.31,601.74 426.15,599.70Z" fill="#4f8ff0"/><path d="M426.70,599.70 Q426.75,598.04 427.20,597.85 Q427.65,598.04 427.70,599.70 Q427.65,601.37 427.20,601.55 Q426.75,601.37 426.70,599.70Z" fill="#8df0ea"/><ellipse cx="427.20" cy="599.70" rx="0.55" ry="0.55" fill="#aee05a"/></g>
<g><path d="M408.40,609.80 Q409.15,607.46 413.40,607.05 Q417.65,607.46 418.40,609.80 Q417.65,612.14 413.40,612.55 Q409.15,612.14 408.40,609.80Z" fill="#fff" stroke="#7f78e6" stroke-width="0.55"/><path d="M409.60,609.80 Q410.17,608.40 413.40,608.15 Q416.63,608.40 417.20,609.80 Q416.63,611.20 413.40,611.45 Q410.17,611.20 409.60,609.80Z" fill="#7fb0f4"/><path d="M410.30,609.80 Q410.61,608.81 413.40,608.70 Q416.19,608.81 416.50,609.80 Q416.19,610.79 413.40,610.90 Q410.61,610.79 410.30,609.80Z" fill="#b4e9f6"/></g>
<g><path d="M436.20,610.80 Q437.18,608.25 442.70,607.80 Q448.22,608.25 449.20,610.80 Q448.22,613.35 442.70,613.80 Q437.18,613.35 436.20,610.80Z" fill="#fff" stroke="#7f78e6" stroke-width="0.55"/><path d="M437.40,610.80 Q438.19,609.18 442.70,608.90 Q447.20,609.18 448.00,610.80 Q447.20,612.41 442.70,612.70 Q438.19,612.41 437.40,610.80Z" fill="#7fb0f4"/><path d="M438.10,610.80 Q438.56,609.58 442.70,609.45 Q446.84,609.58 447.30,610.80 Q446.84,612.01 442.70,612.15 Q438.56,612.01 438.10,610.80Z" fill="#b4e9f6"/></g>
<g><path d="M450.05,609.50 Q451.66,607.52 455.80,606.75 Q459.94,607.52 461.55,609.50 Q459.94,611.48 455.80,612.25 Q451.66,611.48 450.05,609.50Z" fill="#fff" stroke="#7f78e6" stroke-width="0.55"/><path d="M451.25,609.50 Q451.93,608.10 455.80,607.85 Q459.67,608.10 460.35,609.50 Q459.67,610.90 455.80,611.15 Q451.93,610.90 451.25,609.50Z" fill="#4f8ff0"/><path d="M451.95,609.50 Q452.34,608.51 455.80,608.40 Q459.26,608.51 459.65,609.50 Q459.26,610.49 455.80,610.60 Q452.34,610.49 451.95,609.50Z" fill="#8df0ea"/><ellipse cx="455.80" cy="609.50" rx="0.55" ry="0.55" fill="#aee05a"/></g>
<g><path d="M462.35,609.20 Q463.14,607.08 467.60,606.70 Q472.06,607.08 472.85,609.20 Q472.06,611.33 467.60,611.70 Q463.14,611.33 462.35,609.20Z" fill="#fff" stroke="#7f78e6" stroke-width="0.55"/><path d="M463.55,609.20 Q464.16,608.01 467.60,607.80 Q471.04,608.01 471.65,609.20 Q471.04,610.39 467.60,610.60 Q464.16,610.39 463.55,609.20Z" fill="#7fb0f4"/><path d="M464.25,609.20 Q464.59,608.44 467.60,608.35 Q470.62,608.44 470.95,609.20 Q470.62,609.97 467.60,610.05 Q464.59,609.97 464.25,609.20Z" fill="#b4e9f6"/></g>
<g><rect x="378.00" y="610.85" width="12.00" height="5.50" rx="2.75" fill="#fff" stroke="#7f78e6" stroke-width="0.55"/><rect x="379.80" y="612.15" width="8.40" height="2.90" rx="1.45" fill="none" stroke="#b4c4f6" stroke-width="0.35"/><rect x="382.44" y="612.25" width="5.04" height="2.70" rx="1.35" fill="#dbe9fd"/></g>
<g><rect x="408.70" y="620.60" width="17.00" height="5.20" rx="2.60" fill="#fff" stroke="#7f78e6" stroke-width="0.55"/><rect x="410.50" y="621.90" width="13.40" height="2.60" rx="1.30" fill="none" stroke="#b4c4f6" stroke-width="0.35"/><rect x="414.99" y="622.00" width="7.14" height="2.40" rx="1.20" fill="#dbe9fd"/></g>
<g><rect x="432.00" y="619.90" width="17.00" height="4.60" rx="2.30" fill="#fff" stroke="#7f78e6" stroke-width="0.55"/><rect x="433.80" y="621.20" width="13.40" height="2.00" rx="1.00" fill="none" stroke="#b4c4f6" stroke-width="0.35"/><rect x="438.29" y="621.30" width="7.14" height="1.80" rx="0.90" fill="#dbe9fd"/></g>
<g><rect x="409.50" y="635.70" width="15.00" height="4.60" rx="2.30" fill="#fff" stroke="#7f78e6" stroke-width="0.55"/><rect x="411.30" y="637.00" width="11.40" height="2.00" rx="1.00" fill="none" stroke="#b4c4f6" stroke-width="0.35"/><rect x="415.05" y="637.10" width="6.30" height="1.80" rx="0.90" fill="#dbe9fd"/></g>
<g><rect x="425.00" y="635.10" width="11.00" height="5.40" rx="2.70" fill="#fff" stroke="#7f78e6" stroke-width="0.55"/><rect x="426.80" y="636.40" width="7.40" height="2.80" rx="1.40" fill="none" stroke="#b4c4f6" stroke-width="0.35"/><rect x="429.07" y="636.50" width="4.62" height="2.60" rx="1.30" fill="#dbe9fd"/></g>
<g><rect x="436.25" y="635.20" width="14.50" height="4.80" rx="2.40" fill="#fff" stroke="#7f78e6" stroke-width="0.55"/><rect x="438.05" y="636.50" width="10.90" height="2.20" rx="1.10" fill="none" stroke="#b4c4f6" stroke-width="0.35"/><rect x="441.62" y="636.60" width="6.09" height="2.00" rx="1.00" fill="#dbe9fd"/></g>
<g><rect x="411.85" y="650.80" width="9.50" height="4.20" rx="2.10" fill="#fff" stroke="#7f78e6" stroke-width="0.55"/><rect x="413.65" y="652.10" width="5.90" height="1.60" rx="0.80" fill="none" stroke="#b4c4f6" stroke-width="0.35"/><rect x="415.37" y="652.20" width="3.99" height="1.40" rx="0.70" fill="#dbe9fd"/></g>
<g><rect x="423.20" y="650.65" width="8.00" height="4.50" rx="2.25" fill="#fff" stroke="#7f78e6" stroke-width="0.55"/><rect x="425.00" y="651.95" width="4.40" height="1.90" rx="0.95" fill="none" stroke="#b4c4f6" stroke-width="0.35"/><rect x="426.16" y="652.05" width="3.36" height="1.70" rx="0.85" fill="#dbe9fd"/></g>
<g><rect x="431.40" y="650.95" width="8.00" height="4.50" rx="2.25" fill="#fff" stroke="#7f78e6" stroke-width="0.55"/><rect x="433.20" y="652.25" width="4.40" height="1.90" rx="0.95" fill="none" stroke="#b4c4f6" stroke-width="0.35"/><rect x="434.36" y="652.35" width="3.36" height="1.70" rx="0.85" fill="#dbe9fd"/></g>
<g><rect x="440.40" y="650.90" width="9.00" height="4.20" rx="2.10" fill="#fff" stroke="#7f78e6" stroke-width="0.55"/><rect x="442.20" y="652.20" width="5.40" height="1.60" rx="0.80" fill="none" stroke="#b4c4f6" stroke-width="0.35"/><rect x="443.73" y="652.30" width="3.78" height="1.40" rx="0.70" fill="#dbe9fd"/></g>
<text x="322.60" y="692.20" text-anchor="middle" font-size="8.0" fill="#303030">-20</text>
<text x="349.35" y="692.20" text-anchor="middle" font-size="8.0" fill="#303030">-15</text>
<text x="376.10" y="692.20" text-anchor="middle" font-size="8.0" fill="#303030">-10</text>
<text x="402.85" y="692.20" text-anchor="middle" font-size="8.0" fill="#303030">-5</text>
<text x="429.80" y="692.20" text-anchor="middle" font-size="8.0" fill="#303030">0</text>
<text x="456.55" y="692.20" text-anchor="middle" font-size="8.0" fill="#303030">5</text>
<text x="483.30" y="692.20" text-anchor="middle" font-size="8.0" fill="#303030">10</text>
<text x="510.05" y="692.20" text-anchor="middle" font-size="8.0" fill="#303030">15</text>
<text x="536.80" y="692.20" text-anchor="middle" font-size="8.0" fill="#303030">20</text>
<text x="319.60" y="684.40" text-anchor="end" font-size="8.0" fill="#303030">-15</text>
<text x="319.60" y="656.63" text-anchor="end" font-size="8.0" fill="#303030">-10</text>
<text x="319.60" y="628.87" text-anchor="end" font-size="8.0" fill="#303030">-5</text>
<text x="319.60" y="601.10" text-anchor="end" font-size="8.0" fill="#303030">0</text>
<text x="319.60" y="573.33" text-anchor="end" font-size="8.0" fill="#303030">5</text>
<text x="319.60" y="545.57" text-anchor="end" font-size="8.0" fill="#303030">10</text>
<text x="319.60" y="517.80" text-anchor="end" font-size="8.0" fill="#303030">15</text>
<text x="429.80" y="703.40" text-anchor="middle" font-size="8.6" textLength="95" fill="#303030">Cross-range distance(m)</text>
<text transform="translate(304.00,597.70) rotate(-90)" text-anchor="middle" font-size="8.6" textLength="73.2" fill="#303030">Range distance(m)</text>
</g>
<text x="420.5" y="728.40" text-anchor="middle" font-family="'Liberation Serif', serif" font-size="18.6" fill="#111">(<tspan font-weight="bold">f</tspan>)</text>
</svg></body></html>
